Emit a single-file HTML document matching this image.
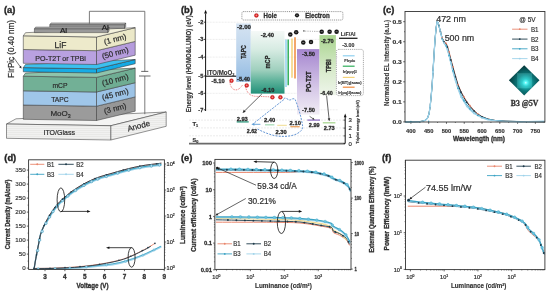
<!DOCTYPE html>
<html><head><meta charset="utf-8"><style>
html,body{margin:0;padding:0;background:#fff;}
svg{display:block;}
text{stroke:#2e2e2e;stroke-width:0.22px;}
text[font-weight="bold"]{stroke-width:0.45px;}
</style></head><body>
<svg width="550" height="293" viewBox="0 0 550 293">
<defs>
<linearGradient id="gTAPC" x1="0" y1="0" x2="0" y2="1"><stop offset="0" stop-color="#d5e3f2"/><stop offset="0.5" stop-color="#bcd4ec"/><stop offset="1" stop-color="#92bbe2"/></linearGradient>
<linearGradient id="gMCP" x1="0" y1="0" x2="0" y2="1"><stop offset="0" stop-color="#f5f9f7"/><stop offset="0.3" stop-color="#d6ebe2"/><stop offset="0.62" stop-color="#a0d0be"/><stop offset="0.8" stop-color="#5db29a"/><stop offset="1" stop-color="#229079"/></linearGradient>
<linearGradient id="gPO" x1="0" y1="0" x2="0" y2="1"><stop offset="0" stop-color="#a586cf"/><stop offset="0.6" stop-color="#d6c8e8"/><stop offset="1" stop-color="#f1edf5"/></linearGradient>
<linearGradient id="gTPBI" x1="0" y1="0" x2="0" y2="1"><stop offset="0" stop-color="#a9d48f"/><stop offset="0.6" stop-color="#d9ebcd"/><stop offset="1" stop-color="#eef5ea"/></linearGradient>
<radialGradient id="gDia" cx="0.55" cy="0.58" r="0.6"><stop offset="0" stop-color="#f2ffff"/><stop offset="0.07" stop-color="#5ef8f8"/><stop offset="0.2" stop-color="#1cc0c0"/><stop offset="0.45" stop-color="#0d7a7c"/><stop offset="1" stop-color="#042e30"/></radialGradient>
<pattern id="glass" width="3" height="2" patternUnits="userSpaceOnUse"><rect width="3" height="2" fill="#f1f1f0"/><rect width="3" height="0.6" fill="#e4e4e2"/></pattern>
</defs>
<polygon points="6.5,124 110.9,125.7 166.2,112 16,118.8" fill="#f4f4f3" stroke="#3c3c3c" stroke-width="0.55" stroke-linejoin="round" />
<polygon points="6.5,124 110.9,125.7 110.9,140 6.5,138.3" fill="url(#glass)" stroke="#3c3c3c" stroke-width="0.55" stroke-linejoin="round" />
<polygon points="110.9,125.7 166.2,112 166.2,126.3 110.9,140" fill="url(#glass)" stroke="#3c3c3c" stroke-width="0.55" stroke-linejoin="round" />
<text x="59.2" y="134.6" font-family="'Liberation Sans', sans-serif" font-size="8" font-weight="normal" fill="#2a2a2a" text-anchor="middle" style="stroke-width:0.21px" textLength="31.5" lengthAdjust="spacingAndGlyphs" >ITO/Glass</text>
<text x="0" y="0" font-family="'Liberation Sans', sans-serif" font-size="8" font-weight="normal" fill="#2a2a2a" text-anchor="middle" style="stroke-width:0.21px" transform="translate(139.3 128.6) rotate(-15)">Anode</text>
<polygon points="23.3,105 96.5,106.2 96.5,120.5 23.3,119.3" fill="#9b9b9b" stroke="#3c3c3c" stroke-width="0.55" stroke-linejoin="round" />
<polygon points="96.5,106.2 135.2,96.9 135.2,111.2 96.5,120.5" fill="#979797" stroke="#3c3c3c" stroke-width="0.55" stroke-linejoin="round" />
<polygon points="23.3,90.8 96.5,92 96.5,106.2 23.3,105" fill="#9fc6e9" stroke="#3c3c3c" stroke-width="0.55" stroke-linejoin="round" />
<polygon points="96.5,92 135.2,82.7 135.2,96.9 96.5,106.2" fill="#9cc3e6" stroke="#3c3c3c" stroke-width="0.55" stroke-linejoin="round" />
<polygon points="23.3,76.2 96.5,77.4 96.5,92 23.3,90.8" fill="#72b096" stroke="#3c3c3c" stroke-width="0.55" stroke-linejoin="round" />
<polygon points="96.5,77.4 135.2,68.1 135.2,82.7 96.5,92" fill="#6fad93" stroke="#3c3c3c" stroke-width="0.55" stroke-linejoin="round" />
<polygon points="23.3,76.2 96.5,77.4 135.2,68.1 25.5,73.1" fill="#8fc4ab" stroke="#3c3c3c" stroke-width="0.55" stroke-linejoin="round" />
<polygon points="23.3,67.6 96.5,68.8 96.5,73 23.3,71.8" fill="#16ace6" stroke="#3c3c3c" stroke-width="0.6" stroke-linejoin="round" />
<polygon points="96.5,68.8 135.2,59.5 135.2,63.7 96.5,73" fill="#14aae4" stroke="#3c3c3c" stroke-width="0.6" stroke-linejoin="round" />
<polygon points="23.3,67.6 96.5,68.8 135.2,59.5 25.5,64.5" fill="#3cc0ef" stroke="#3c3c3c" stroke-width="0.55" stroke-linejoin="round" />
<polygon points="23.3,49.5 96.5,50.7 96.5,64.5 23.3,63.3" fill="#b9a1e0" stroke="#3c3c3c" stroke-width="0.55" stroke-linejoin="round" />
<polygon points="96.5,50.7 135.2,41.4 135.2,55.2 96.5,64.5" fill="#b59cdc" stroke="#3c3c3c" stroke-width="0.55" stroke-linejoin="round" />
<polygon points="23.3,35.8 96.5,37 96.5,50.7 23.3,49.5" fill="#edeacb" stroke="#3c3c3c" stroke-width="0.55" stroke-linejoin="round" />
<polygon points="96.5,37 135.2,27.7 135.2,41.4 96.5,50.7" fill="#ebe8c8" stroke="#3c3c3c" stroke-width="0.55" stroke-linejoin="round" />
<polygon points="23.3,35.8 96.5,37 135.2,27.7 25.5,32.7" fill="#f3f1dc" stroke="#3c3c3c" stroke-width="0.55" stroke-linejoin="round" />
<polygon points="49.8,24.8 51,23 125.7,23 124.5,24.8" fill="#bdbdbd" stroke="#3c3c3c" stroke-width="0.5" stroke-linejoin="round" />
<polygon points="49.8,24.8 124.5,24.8 124.5,28.3 49.8,28.3" fill="#999999" stroke="#3c3c3c" stroke-width="0.5" stroke-linejoin="round" />
<polygon points="124.5,24.8 125.7,23 125.7,26.7 124.5,28.3" fill="#a8a8a8" stroke="#3c3c3c" stroke-width="0.5" stroke-linejoin="round" />
<polygon points="34.4,28.9 35.6,27.1 109,27.1 107.8,28.9" fill="#bdbdbd" stroke="#3c3c3c" stroke-width="0.5" stroke-linejoin="round" />
<polygon points="34.4,28.9 107.8,28.9 107.8,32.6 34.4,32.6" fill="#999999" stroke="#3c3c3c" stroke-width="0.5" stroke-linejoin="round" />
<polygon points="107.8,28.9 109,27.1 109,31 107.8,32.6" fill="#a8a8a8" stroke="#3c3c3c" stroke-width="0.5" stroke-linejoin="round" />
<text x="63.6" y="33.3" font-family="'Liberation Sans', sans-serif" font-size="8" font-weight="normal" fill="#111" text-anchor="middle" style="stroke-width:0.21px" >Al</text>
<text x="105.2" y="29.5" font-family="'Liberation Sans', sans-serif" font-size="8" font-weight="normal" fill="#111" text-anchor="middle" style="stroke-width:0.21px" >Al</text>
<text x="60.5" y="47.5" font-family="'Liberation Sans', sans-serif" font-size="9.6" font-weight="normal" fill="#2a2a2a" text-anchor="middle" style="stroke-width:0.25px" textLength="11.8" lengthAdjust="spacingAndGlyphs" >LiF</text>
<text x="60.6" y="60.8" font-family="'Liberation Sans', sans-serif" font-size="8" font-weight="normal" fill="#2a2a2a" text-anchor="middle" style="stroke-width:0.21px" textLength="50.5" lengthAdjust="spacingAndGlyphs" >PO-T2T or TPBi</text>
<text x="60" y="87.8" font-family="'Liberation Sans', sans-serif" font-size="8" font-weight="normal" fill="#2a2a2a" text-anchor="middle" style="stroke-width:0.21px" textLength="15" lengthAdjust="spacingAndGlyphs" >mCP</text>
<text x="60" y="102.1" font-family="'Liberation Sans', sans-serif" font-size="8" font-weight="normal" fill="#2a2a2a" text-anchor="middle" style="stroke-width:0.21px" textLength="17.5" lengthAdjust="spacingAndGlyphs" >TAPC</text>
<text x="60.5" y="116" font-family="'Liberation Sans', sans-serif" font-size="8.0" fill="#2a2a2a" text-anchor="middle" style="stroke-width:0.21px">MoO<tspan font-size="5.2" dy="1.6">3</tspan></text>
<text x="0" y="0" font-family="'Liberation Sans', sans-serif" font-size="7.9" font-weight="normal" fill="#2a2a2a" text-anchor="middle" style="stroke-width:0.21px" transform="translate(115.85 41.8) rotate(-15)">(1 nm)</text>
<text x="0" y="0" font-family="'Liberation Sans', sans-serif" font-size="7.9" font-weight="normal" fill="#2a2a2a" text-anchor="middle" style="stroke-width:0.21px" transform="translate(115.85 55.55) rotate(-15)">(50 nm)</text>
<text x="0" y="0" font-family="'Liberation Sans', sans-serif" font-size="7.9" font-weight="normal" fill="#2a2a2a" text-anchor="middle" style="stroke-width:0.21px" transform="translate(115.85 82.45) rotate(-15)">(10 nm)</text>
<text x="0" y="0" font-family="'Liberation Sans', sans-serif" font-size="7.9" font-weight="normal" fill="#2a2a2a" text-anchor="middle" style="stroke-width:0.21px" transform="translate(115.85 96.85) rotate(-15)">(45 nm)</text>
<text x="0" y="0" font-family="'Liberation Sans', sans-serif" font-size="7.9" font-weight="normal" fill="#2a2a2a" text-anchor="middle" style="stroke-width:0.21px" transform="translate(115.85 111.05) rotate(-15)">(3 nm)</text>
<text x="0" y="0" font-family="'Liberation Sans', sans-serif" font-size="8.4" font-weight="normal" fill="#2a2a2a" text-anchor="middle" style="stroke-width:0.22px" textLength="58" lengthAdjust="spacingAndGlyphs" transform="translate(13.6 49) rotate(-90)">FIrPic (0.40 nm)</text>
<line x1="13.1" y1="56.8" x2="20.38" y2="66.91" stroke="#222" stroke-width="0.6" />
<polygon points="21.6,68.6 19.13,67.17 21.03,65.81" fill="#222" stroke="none" stroke-width="0.6" stroke-linejoin="round" />
<polyline points="89.4,23.3 89.4,11.3 144.8,11.3 144.8,71.4" fill="none" stroke="#5a5a5a" stroke-width="0.8" stroke-linejoin="round" stroke-linecap="round" />
<line x1="144.8" y1="76" x2="144.8" y2="114.2" stroke="#5a5a5a" stroke-width="0.8" />
<line x1="141.2" y1="71.4" x2="148.3" y2="71.4" stroke="#5a5a5a" stroke-width="0.9" />
<line x1="139" y1="76" x2="150.5" y2="76" stroke="#5a5a5a" stroke-width="0.9" />
<text x="4" y="13" font-family="'Liberation Sans', sans-serif" font-size="9.3" font-weight="bold" fill="#222" text-anchor="start" style="stroke-width:0.4px" >(a)</text>
<text x="181" y="12.8" font-family="'Liberation Sans', sans-serif" font-size="9.3" font-weight="bold" fill="#222" text-anchor="start" style="stroke-width:0.4px" >(b)</text>
<text x="0" y="0" font-family="'Liberation Sans', sans-serif" font-size="6.4" font-weight="bold" fill="#333" text-anchor="middle" style="stroke-width:0.15px" textLength="97" lengthAdjust="spacingAndGlyphs" transform="translate(191.3 63.8) rotate(-90)">Energy level (HOMO&amp;LUMO) (eV)</text>
<line x1="206.6" y1="22.2" x2="338" y2="22.2" stroke="#dadada" stroke-width="0.5" stroke-dasharray="2 1"/>
<line x1="206.6" y1="39.4" x2="338" y2="39.4" stroke="#dadada" stroke-width="0.5" stroke-dasharray="2 1"/>
<line x1="206.6" y1="57.1" x2="338" y2="57.1" stroke="#dadada" stroke-width="0.5" stroke-dasharray="2 1"/>
<line x1="206.6" y1="93.3" x2="338" y2="93.3" stroke="#dadada" stroke-width="0.5" stroke-dasharray="2 1"/>
<line x1="206.6" y1="109.8" x2="338" y2="109.8" stroke="#dadada" stroke-width="0.5" stroke-dasharray="2 1"/>
<line x1="189" y1="120.1" x2="344" y2="120.1" stroke="#d6d6d6" stroke-width="0.5" stroke-dasharray="2 1"/>
<line x1="189" y1="127.9" x2="344" y2="127.9" stroke="#d6d6d6" stroke-width="0.5" stroke-dasharray="2 1"/>
<line x1="189" y1="135.8" x2="344" y2="135.8" stroke="#d6d6d6" stroke-width="0.5" stroke-dasharray="2 1"/>
<line x1="205.6" y1="111" x2="205.6" y2="13.5" stroke="#111" stroke-width="1.0" />
<polygon points="205.6,9.8 207.1,13.6 204.1,13.6" fill="#111" stroke="none" stroke-width="0.6" stroke-linejoin="round" />
<line x1="203.8" y1="22.2" x2="205.6" y2="22.2" stroke="#111" stroke-width="0.8" />
<text x="203.3" y="24.1" font-family="'Liberation Sans', sans-serif" font-size="5.6" font-weight="bold" fill="#333" text-anchor="end" style="stroke-width:0.27px" >-2</text>
<line x1="203.8" y1="39.4" x2="205.6" y2="39.4" stroke="#111" stroke-width="0.8" />
<text x="203.3" y="41.3" font-family="'Liberation Sans', sans-serif" font-size="5.6" font-weight="bold" fill="#333" text-anchor="end" style="stroke-width:0.27px" >-3</text>
<line x1="203.8" y1="57.1" x2="205.6" y2="57.1" stroke="#111" stroke-width="0.8" />
<text x="203.3" y="59" font-family="'Liberation Sans', sans-serif" font-size="5.6" font-weight="bold" fill="#333" text-anchor="end" style="stroke-width:0.27px" >-4</text>
<line x1="203.8" y1="76" x2="205.6" y2="76" stroke="#111" stroke-width="0.8" />
<text x="203.3" y="77.9" font-family="'Liberation Sans', sans-serif" font-size="5.6" font-weight="bold" fill="#333" text-anchor="end" style="stroke-width:0.27px" >-5</text>
<line x1="203.8" y1="93.3" x2="205.6" y2="93.3" stroke="#111" stroke-width="0.8" />
<text x="203.3" y="95.2" font-family="'Liberation Sans', sans-serif" font-size="5.6" font-weight="bold" fill="#333" text-anchor="end" style="stroke-width:0.27px" >-6</text>
<line x1="203.8" y1="109.8" x2="205.6" y2="109.8" stroke="#111" stroke-width="0.8" />
<text x="203.3" y="111.7" font-family="'Liberation Sans', sans-serif" font-size="5.6" font-weight="bold" fill="#333" text-anchor="end" style="stroke-width:0.27px" >-7</text>
<rect x="241.9" y="11.6" width="101" height="8.4" rx="1.5" fill="none" stroke="#555" stroke-width="0.65" stroke-dasharray="1 0.9"/>
<circle cx="256.4" cy="15.4" r="2" fill="#dc2424" stroke="#a81010" stroke-width="0.3" />
<line x1="255.5" y1="15.4" x2="257.3" y2="15.4" stroke="#fbdada" stroke-width="0.4" />
<line x1="256.4" y1="14.5" x2="256.4" y2="16.3" stroke="#fbdada" stroke-width="0.4" />
<text x="263.6" y="17.8" font-family="'Liberation Sans', sans-serif" font-size="6.6" font-weight="bold" fill="#333" text-anchor="start" style="stroke-width:0.32px" textLength="13.2" lengthAdjust="spacingAndGlyphs" >Hole</text>
<circle cx="297" cy="15.3" r="2.1" fill="#161616" stroke="none" stroke-width="0.5" />
<line x1="296.06" y1="15.3" x2="297.94" y2="15.3" stroke="#d8d8d8" stroke-width="0.45" />
<text x="305.2" y="17.8" font-family="'Liberation Sans', sans-serif" font-size="6.6" font-weight="bold" fill="#333" text-anchor="start" style="stroke-width:0.32px" textLength="24.5" lengthAdjust="spacingAndGlyphs" >Electron</text>
<rect x="236.2" y="23.4" width="14.6" height="58.4" fill="url(#gTAPC)" stroke="none" stroke-width="0.6" />
<rect x="250.8" y="31" width="33.7" height="62.6" fill="url(#gMCP)" stroke="none" stroke-width="0.6" />
<rect x="297" y="49.1" width="22.5" height="65.5" fill="url(#gPO)" stroke="none" stroke-width="0.6" />
<rect x="319.5" y="35.1" width="16.4" height="60.1" fill="url(#gTPBI)" stroke="none" stroke-width="0.6" />
<line x1="286" y1="39.4" x2="286" y2="87" stroke="#8fd0ef" stroke-width="1.5" />
<line x1="288.2" y1="39.4" x2="288.2" y2="85.3" stroke="#2fae5a" stroke-width="1.5" />
<line x1="292" y1="38.5" x2="292" y2="77.7" stroke="#f3d27a" stroke-width="1.5" />
<line x1="295" y1="37.2" x2="295" y2="78.5" stroke="#ef8a3c" stroke-width="1.5" />
<line x1="205.6" y1="76.2" x2="236.2" y2="76.2" stroke="#111" stroke-width="1.1" />
<text x="207" y="75.2" font-family="'Liberation Sans', sans-serif" font-size="6.6" font-weight="bold" fill="#333" textLength="27.5" lengthAdjust="spacingAndGlyphs" style="stroke-width:0.12px">ITO/MoO<tspan font-size="4.2" dy="1.2">3</tspan></text>
<line x1="339" y1="38.3" x2="357.5" y2="38.3" stroke="#222" stroke-width="1.3" />
<text x="348.2" y="36.4" font-family="'Liberation Sans', sans-serif" font-size="6.2" font-weight="bold" fill="#333" text-anchor="middle" style="stroke-width:0.12px" textLength="14.8" lengthAdjust="spacingAndGlyphs" >LiF/Al</text>
<text x="348.3" y="47" font-family="'Liberation Sans', sans-serif" font-size="5.8" font-weight="bold" fill="#333" text-anchor="middle" style="stroke-width:0.12px" textLength="12.1" lengthAdjust="spacingAndGlyphs" >-3.00</text>
<text x="244" y="28.5" font-family="'Liberation Sans', sans-serif" font-size="5.8" font-weight="bold" fill="#222" text-anchor="middle" style="stroke-width:0.28px" textLength="14" lengthAdjust="spacingAndGlyphs" >-2.00</text>
<text x="267.35" y="37.1" font-family="'Liberation Sans', sans-serif" font-size="5.8" font-weight="bold" fill="#222" text-anchor="middle" style="stroke-width:0.28px" textLength="13.3" lengthAdjust="spacingAndGlyphs" >-2.40</text>
<text x="243.5" y="80.8" font-family="'Liberation Sans', sans-serif" font-size="5.8" font-weight="bold" fill="#222" text-anchor="middle" style="stroke-width:0.28px" textLength="13" lengthAdjust="spacingAndGlyphs" >-5.40</text>
<text x="267.9" y="91.5" font-family="'Liberation Sans', sans-serif" font-size="5.8" font-weight="bold" fill="#222" text-anchor="middle" style="stroke-width:0.28px" textLength="12.8" lengthAdjust="spacingAndGlyphs" >-6.10</text>
<text x="308.5" y="56.4" font-family="'Liberation Sans', sans-serif" font-size="5.8" font-weight="bold" fill="#222" text-anchor="middle" style="stroke-width:0.28px" textLength="13" lengthAdjust="spacingAndGlyphs" >-3.50</text>
<text x="308.5" y="111.9" font-family="'Liberation Sans', sans-serif" font-size="5.8" font-weight="bold" fill="#222" text-anchor="middle" style="stroke-width:0.28px" textLength="13" lengthAdjust="spacingAndGlyphs" >-7.50</text>
<text x="327.35" y="42.6" font-family="'Liberation Sans', sans-serif" font-size="5.8" font-weight="bold" fill="#222" text-anchor="middle" style="stroke-width:0.28px" textLength="12.7" lengthAdjust="spacingAndGlyphs" >-2.70</text>
<text x="326.65" y="94.7" font-family="'Liberation Sans', sans-serif" font-size="5.8" font-weight="bold" fill="#222" text-anchor="middle" style="stroke-width:0.28px" textLength="12.3" lengthAdjust="spacingAndGlyphs" >-6.40</text>
<text x="218.05" y="82.6" font-family="'Liberation Sans', sans-serif" font-size="5.8" font-weight="bold" fill="#222" text-anchor="middle" style="stroke-width:0.28px" textLength="13.1" lengthAdjust="spacingAndGlyphs" >-5.10</text>
<text x="0" y="0" font-family="'Liberation Sans', sans-serif" font-size="6.8" font-weight="bold" fill="#222" text-anchor="middle" style="stroke-width:0.33px" textLength="13.7" lengthAdjust="spacingAndGlyphs" transform="translate(245.6 52) rotate(-90)">TAPC</text>
<text x="0" y="0" font-family="'Liberation Sans', sans-serif" font-size="6.8" font-weight="bold" fill="#222" text-anchor="middle" style="stroke-width:0.33px" textLength="12.9" lengthAdjust="spacingAndGlyphs" transform="translate(269.6 62) rotate(-90)">mCP</text>
<text x="0" y="0" font-family="'Liberation Sans', sans-serif" font-size="6.8" font-weight="bold" fill="#222" text-anchor="middle" style="stroke-width:0.33px" textLength="20.5" lengthAdjust="spacingAndGlyphs" transform="translate(310.7 81.8) rotate(-90)">PO-T2T</text>
<text x="0" y="0" font-family="'Liberation Sans', sans-serif" font-size="6.8" font-weight="bold" fill="#222" text-anchor="middle" style="stroke-width:0.33px" textLength="12.7" lengthAdjust="spacingAndGlyphs" transform="translate(330.9 65.8) rotate(-90)">TPBi</text>
<circle cx="290.3" cy="34.6" r="2.25" fill="#161616" stroke="none" stroke-width="0.5" />
<line x1="289.29" y1="34.6" x2="291.31" y2="34.6" stroke="#d8d8d8" stroke-width="0.45" />
<circle cx="296.2" cy="32.2" r="2.25" fill="#161616" stroke="none" stroke-width="0.5" />
<line x1="295.19" y1="32.2" x2="297.21" y2="32.2" stroke="#d8d8d8" stroke-width="0.45" />
<circle cx="303.3" cy="42.5" r="2.25" fill="#161616" stroke="none" stroke-width="0.5" />
<line x1="302.29" y1="42.5" x2="304.31" y2="42.5" stroke="#d8d8d8" stroke-width="0.45" />
<circle cx="311" cy="42.1" r="2.25" fill="#161616" stroke="none" stroke-width="0.5" />
<line x1="309.99" y1="42.1" x2="312.01" y2="42.1" stroke="#d8d8d8" stroke-width="0.45" />
<circle cx="321.7" cy="31.7" r="2.25" fill="#161616" stroke="none" stroke-width="0.5" />
<line x1="320.69" y1="31.7" x2="322.71" y2="31.7" stroke="#d8d8d8" stroke-width="0.45" />
<circle cx="329.6" cy="31.7" r="2.25" fill="#161616" stroke="none" stroke-width="0.5" />
<line x1="328.59" y1="31.7" x2="330.61" y2="31.7" stroke="#d8d8d8" stroke-width="0.45" />
<circle cx="336.6" cy="31.7" r="2.25" fill="#161616" stroke="none" stroke-width="0.5" />
<line x1="335.59" y1="31.7" x2="337.61" y2="31.7" stroke="#d8d8d8" stroke-width="0.45" />
<circle cx="303.9" cy="30.9" r="0.7" fill="#111" stroke="none" stroke-width="0.5" />
<line x1="305" y1="31.1" x2="319.5" y2="31.5" stroke="#333" stroke-width="0.6" stroke-dasharray="0.6 1.2"/>
<path d="M229.8,82.3 C231,90 236,92 240.5,87.6 L242.6,85" fill="none" stroke="#e04848" stroke-width="0.75" stroke-dasharray="0.9 0.9"/>
<path d="M245.6,87.4 C247,92 249,95.5 255,96.3 L270,96.8" fill="none" stroke="#e04848" stroke-width="0.75" stroke-dasharray="0.9 0.9"/>
<path d="M228,80.6 L206,80.6" fill="none" stroke="#e04848" stroke-width="0.0"/>
<circle cx="231.5" cy="80.7" r="2" fill="#dc2424" stroke="#a81010" stroke-width="0.3" />
<line x1="230.6" y1="80.7" x2="232.4" y2="80.7" stroke="#fbdada" stroke-width="0.4" />
<line x1="231.5" y1="79.8" x2="231.5" y2="81.6" stroke="#fbdada" stroke-width="0.4" />
<circle cx="246.7" cy="85.4" r="2" fill="#dc2424" stroke="#a81010" stroke-width="0.3" />
<line x1="245.8" y1="85.4" x2="247.6" y2="85.4" stroke="#fbdada" stroke-width="0.4" />
<line x1="246.7" y1="84.5" x2="246.7" y2="86.3" stroke="#fbdada" stroke-width="0.4" />
<circle cx="272.4" cy="97.3" r="2" fill="#dc2424" stroke="#a81010" stroke-width="0.3" />
<line x1="271.5" y1="97.3" x2="273.3" y2="97.3" stroke="#fbdada" stroke-width="0.4" />
<line x1="272.4" y1="96.4" x2="272.4" y2="98.2" stroke="#fbdada" stroke-width="0.4" />
<circle cx="280.4" cy="97.3" r="2" fill="#dc2424" stroke="#a81010" stroke-width="0.3" />
<line x1="279.5" y1="97.3" x2="281.3" y2="97.3" stroke="#fbdada" stroke-width="0.4" />
<line x1="280.4" y1="96.4" x2="280.4" y2="98.2" stroke="#fbdada" stroke-width="0.4" />
<rect x="336.4" y="49.4" width="27" height="46.2" rx="2.2" fill="none" stroke="#666" stroke-width="0.6" stroke-dasharray="1 0.9"/>
<line x1="342.8" y1="55.8" x2="354.6" y2="55.8" stroke="#8fd0ef" stroke-width="1.2" />
<text x="349.8" y="62.2" font-family="'Liberation Sans', sans-serif" font-size="4.0" font-weight="bold" fill="#333" text-anchor="middle" style="stroke-width:0.12px">FIrpic</text>
<line x1="342.8" y1="66.2" x2="354.6" y2="66.2" stroke="#2fae5a" stroke-width="1.2" />
<text x="349.8" y="72.6" font-family="'Liberation Sans', sans-serif" font-size="4.0" font-weight="bold" fill="#333" text-anchor="middle" style="stroke-width:0.12px">Ir(ppy)<tspan font-size="2.6" dy="0.8">3</tspan></text>
<line x1="342.8" y1="77.4" x2="354.6" y2="77.4" stroke="#f3d27a" stroke-width="1.2" />
<text x="349.8" y="83.8" font-family="'Liberation Sans', sans-serif" font-size="4.0" font-weight="bold" fill="#333" text-anchor="middle" style="stroke-width:0.12px">Ir(BT)<tspan font-size="2.6" dy="0.8">2</tspan><tspan dy="-0.8">(acac)</tspan></text>
<line x1="342.8" y1="87.2" x2="354.6" y2="87.2" stroke="#ef8a3c" stroke-width="1.2" />
<text x="349.8" y="93.6" font-family="'Liberation Sans', sans-serif" font-size="4.0" font-weight="bold" fill="#333" text-anchor="middle" style="stroke-width:0.12px">Ir(pq)<tspan font-size="2.6" dy="0.8">2</tspan><tspan dy="-0.8">(acac)</tspan></text>
<line x1="189" y1="143.7" x2="345" y2="143.7" stroke="#6a6a6a" stroke-width="1.7" />
<text x="192.4" y="125.6" font-family="'Liberation Sans', sans-serif" font-size="6.0" font-weight="bold" fill="#333" style="stroke-width:0.2px">T<tspan font-size="3.8" dy="1.2">1</tspan></text>
<text x="192.6" y="141.6" font-family="'Liberation Sans', sans-serif" font-size="5.4" font-weight="bold" fill="#333" style="stroke-width:0.2px">S<tspan font-size="3.8" dy="1.2">0</tspan></text>
<line x1="236.7" y1="121.9" x2="248.7" y2="121.9" stroke="#2e9a7e" stroke-width="1.3" />
<line x1="265" y1="124.8" x2="274.4" y2="124.8" stroke="#a9dcb8" stroke-width="1.3" />
<line x1="277.2" y1="125.4" x2="286.8" y2="125.4" stroke="#f3e3a6" stroke-width="1.3" />
<line x1="290.3" y1="126.7" x2="299.7" y2="126.7" stroke="#eea35f" stroke-width="1.3" />
<line x1="307.4" y1="120.1" x2="320" y2="120.1" stroke="#9070c4" stroke-width="1.3" />
<line x1="322.8" y1="122.8" x2="335.4" y2="122.8" stroke="#a9d691" stroke-width="1.3" />
<text x="242.25" y="120.6" font-family="'Liberation Sans', sans-serif" font-size="5.9" font-weight="bold" fill="#222" text-anchor="middle" style="stroke-width:0.28px" textLength="11.1" lengthAdjust="spacingAndGlyphs" >2.93</text>
<text x="251.9" y="132.8" font-family="'Liberation Sans', sans-serif" font-size="5.9" font-weight="bold" fill="#222" text-anchor="middle" style="stroke-width:0.28px" textLength="10.2" lengthAdjust="spacingAndGlyphs" >2.62</text>
<text x="269.65" y="121.9" font-family="'Liberation Sans', sans-serif" font-size="5.9" font-weight="bold" fill="#222" text-anchor="middle" style="stroke-width:0.28px" textLength="11.3" lengthAdjust="spacingAndGlyphs" >2.40</text>
<text x="281.1" y="133.8" font-family="'Liberation Sans', sans-serif" font-size="5.9" font-weight="bold" fill="#222" text-anchor="middle" style="stroke-width:0.28px" textLength="11.2" lengthAdjust="spacingAndGlyphs" >2.30</text>
<text x="295.25" y="124.5" font-family="'Liberation Sans', sans-serif" font-size="5.9" font-weight="bold" fill="#222" text-anchor="middle" style="stroke-width:0.28px" textLength="11.3" lengthAdjust="spacingAndGlyphs" >2.10</text>
<text x="314.2" y="127" font-family="'Liberation Sans', sans-serif" font-size="5.9" font-weight="bold" fill="#222" text-anchor="middle" style="stroke-width:0.28px" textLength="10.8" lengthAdjust="spacingAndGlyphs" >2.99</text>
<text x="329.25" y="130.4" font-family="'Liberation Sans', sans-serif" font-size="5.9" font-weight="bold" fill="#222" text-anchor="middle" style="stroke-width:0.28px" textLength="10.9" lengthAdjust="spacingAndGlyphs" >2.73</text>
<line x1="261.8" y1="94" x2="244.31" y2="111.22" stroke="#222" stroke-width="0.7" />
<polygon points="242.6,112.9 243.79,109.83 245.69,111.76" fill="#222" stroke="none" stroke-width="0.6" stroke-linejoin="round" />
<line x1="309.6" y1="116.3" x2="313.16" y2="118.79" stroke="#222" stroke-width="0.6" />
<polygon points="314.6,119.8 312.23,119.35 313.37,117.73" fill="#222" stroke="none" stroke-width="0.6" stroke-linejoin="round" />
<line x1="326.6" y1="95.6" x2="329.07" y2="118.97" stroke="#222" stroke-width="0.7" />
<polygon points="329.3,121.2 327.75,118.55 330.26,118.28" fill="#222" stroke="none" stroke-width="0.6" stroke-linejoin="round" />
<line x1="260.4" y1="124.3" x2="253.8" y2="124.3" stroke="#5b9bd5" stroke-width="0.9" />
<polygon points="251.4,124.3 254.4,122.8 254.4,125.8" fill="#5b9bd5" stroke="none" stroke-width="0.6" stroke-linejoin="round" />
<path d="M283.8,99.6 L253.6,123.4" stroke="#5b8fd2" stroke-width="0.95" stroke-dasharray="2 1.2" fill="none"/>
<path d="M283.8,99.1 C285,96.5 287.5,99.5 289.4,100 C291,100.3 292,97.8 295,99.1 C298,106 301.5,118 302.6,126 C303,130 300,132 296.5,134 C290,136.8 282,137 274,135.5 C268,134 262,131.5 256.5,128.5" stroke="#5b8fd2" stroke-width="0.95" stroke-dasharray="2 1.2" fill="none"/>
<line x1="345.2" y1="143.5" x2="345.2" y2="117" stroke="#111" stroke-width="1.0" />
<polygon points="345.2,113.6 346.6,117.2 343.8,117.2" fill="#111" stroke="none" stroke-width="0.6" stroke-linejoin="round" />
<line x1="343.6" y1="120.1" x2="345.2" y2="120.1" stroke="#111" stroke-width="0.7" />
<text x="348.6" y="122.3" font-family="'Liberation Sans', sans-serif" font-size="6" font-weight="normal" fill="#222" text-anchor="start" style="stroke-width:0.16px" >3</text>
<line x1="343.6" y1="128.1" x2="345.2" y2="128.1" stroke="#111" stroke-width="0.7" />
<text x="348.6" y="130.3" font-family="'Liberation Sans', sans-serif" font-size="6" font-weight="normal" fill="#222" text-anchor="start" style="stroke-width:0.16px" >2</text>
<line x1="343.6" y1="135.9" x2="345.2" y2="135.9" stroke="#111" stroke-width="0.7" />
<text x="348.6" y="138.1" font-family="'Liberation Sans', sans-serif" font-size="6" font-weight="normal" fill="#222" text-anchor="start" style="stroke-width:0.16px" >1</text>
<line x1="343.6" y1="143.5" x2="345.2" y2="143.5" stroke="#111" stroke-width="0.7" />
<text x="348.6" y="145.7" font-family="'Liberation Sans', sans-serif" font-size="6" font-weight="normal" fill="#222" text-anchor="start" style="stroke-width:0.16px" >0</text>
<text x="0" y="0" font-family="'Liberation Sans', sans-serif" font-size="3.9" font-weight="bold" fill="#444" text-anchor="middle" style="stroke-width:0.19px" textLength="43.5" lengthAdjust="spacingAndGlyphs" transform="translate(359.2 122) rotate(-90)">Triplet energy level (eV)</text>
<text x="382.9" y="12.8" font-family="'Liberation Sans', sans-serif" font-size="9.3" font-weight="bold" fill="#222" text-anchor="start" style="stroke-width:0.4px" >(c)</text>
<text x="0" y="0" font-family="'Liberation Sans', sans-serif" font-size="6.4" font-weight="bold" fill="#333" text-anchor="middle" style="stroke-width:0.12px" textLength="86" lengthAdjust="spacingAndGlyphs" transform="translate(388.9 63) rotate(-90)">Normalized EL intensity (a.u.)</text>
<text x="479" y="140.9" font-family="'Liberation Sans', sans-serif" font-size="6.6" font-weight="bold" fill="#333" text-anchor="middle" style="stroke-width:0.32px" textLength="52" lengthAdjust="spacingAndGlyphs" >Wavelength (nm)</text>
<line x1="403.2" y1="121.9" x2="405" y2="121.9" stroke="#222" stroke-width="0.7" />
<text x="401.8" y="124" font-family="'Liberation Sans', sans-serif" font-size="5.9" font-weight="bold" fill="#333" text-anchor="end" style="stroke-width:0.15px" textLength="9.4" lengthAdjust="spacingAndGlyphs" >0.0</text>
<line x1="403.2" y1="101.86" x2="405" y2="101.86" stroke="#222" stroke-width="0.7" />
<text x="401.8" y="103.96" font-family="'Liberation Sans', sans-serif" font-size="5.9" font-weight="bold" fill="#333" text-anchor="end" style="stroke-width:0.15px" textLength="9.4" lengthAdjust="spacingAndGlyphs" >0.1</text>
<line x1="403.2" y1="81.82" x2="405" y2="81.82" stroke="#222" stroke-width="0.7" />
<text x="401.8" y="83.92" font-family="'Liberation Sans', sans-serif" font-size="5.9" font-weight="bold" fill="#333" text-anchor="end" style="stroke-width:0.15px" textLength="9.4" lengthAdjust="spacingAndGlyphs" >0.2</text>
<line x1="403.2" y1="61.78" x2="405" y2="61.78" stroke="#222" stroke-width="0.7" />
<text x="401.8" y="63.88" font-family="'Liberation Sans', sans-serif" font-size="5.9" font-weight="bold" fill="#333" text-anchor="end" style="stroke-width:0.15px" textLength="9.4" lengthAdjust="spacingAndGlyphs" >0.3</text>
<line x1="403.2" y1="41.74" x2="405" y2="41.74" stroke="#222" stroke-width="0.7" />
<text x="401.8" y="43.84" font-family="'Liberation Sans', sans-serif" font-size="5.9" font-weight="bold" fill="#333" text-anchor="end" style="stroke-width:0.15px" textLength="9.4" lengthAdjust="spacingAndGlyphs" >0.4</text>
<line x1="403.2" y1="21.7" x2="405" y2="21.7" stroke="#222" stroke-width="0.7" />
<text x="401.8" y="23.8" font-family="'Liberation Sans', sans-serif" font-size="5.9" font-weight="bold" fill="#333" text-anchor="end" style="stroke-width:0.15px" textLength="9.4" lengthAdjust="spacingAndGlyphs" >0.5</text>
<line x1="404" y1="111.88" x2="405" y2="111.88" stroke="#222" stroke-width="0.6" />
<line x1="404" y1="91.84" x2="405" y2="91.84" stroke="#222" stroke-width="0.6" />
<line x1="404" y1="71.8" x2="405" y2="71.8" stroke="#222" stroke-width="0.6" />
<line x1="404" y1="51.76" x2="405" y2="51.76" stroke="#222" stroke-width="0.6" />
<line x1="404" y1="31.72" x2="405" y2="31.72" stroke="#222" stroke-width="0.6" />
<line x1="410.9" y1="122" x2="410.9" y2="123.8" stroke="#222" stroke-width="0.7" />
<text x="410.9" y="133" font-family="'Liberation Sans', sans-serif" font-size="5.9" font-weight="bold" fill="#333" text-anchor="middle" style="stroke-width:0.15px" textLength="9.6" lengthAdjust="spacingAndGlyphs" >400</text>
<line x1="428.68" y1="122" x2="428.68" y2="123.8" stroke="#222" stroke-width="0.7" />
<text x="428.68" y="133" font-family="'Liberation Sans', sans-serif" font-size="5.9" font-weight="bold" fill="#333" text-anchor="middle" style="stroke-width:0.15px" textLength="9.6" lengthAdjust="spacingAndGlyphs" >450</text>
<line x1="446.46" y1="122" x2="446.46" y2="123.8" stroke="#222" stroke-width="0.7" />
<text x="446.46" y="133" font-family="'Liberation Sans', sans-serif" font-size="5.9" font-weight="bold" fill="#333" text-anchor="middle" style="stroke-width:0.15px" textLength="9.6" lengthAdjust="spacingAndGlyphs" >500</text>
<line x1="464.24" y1="122" x2="464.24" y2="123.8" stroke="#222" stroke-width="0.7" />
<text x="464.24" y="133" font-family="'Liberation Sans', sans-serif" font-size="5.9" font-weight="bold" fill="#333" text-anchor="middle" style="stroke-width:0.15px" textLength="9.6" lengthAdjust="spacingAndGlyphs" >550</text>
<line x1="482.02" y1="122" x2="482.02" y2="123.8" stroke="#222" stroke-width="0.7" />
<text x="482.02" y="133" font-family="'Liberation Sans', sans-serif" font-size="5.9" font-weight="bold" fill="#333" text-anchor="middle" style="stroke-width:0.15px" textLength="9.6" lengthAdjust="spacingAndGlyphs" >600</text>
<line x1="499.8" y1="122" x2="499.8" y2="123.8" stroke="#222" stroke-width="0.7" />
<text x="499.8" y="133" font-family="'Liberation Sans', sans-serif" font-size="5.9" font-weight="bold" fill="#333" text-anchor="middle" style="stroke-width:0.15px" textLength="9.6" lengthAdjust="spacingAndGlyphs" >650</text>
<line x1="517.58" y1="122" x2="517.58" y2="123.8" stroke="#222" stroke-width="0.7" />
<text x="517.58" y="133" font-family="'Liberation Sans', sans-serif" font-size="5.9" font-weight="bold" fill="#333" text-anchor="middle" style="stroke-width:0.15px" textLength="9.6" lengthAdjust="spacingAndGlyphs" >700</text>
<line x1="535.36" y1="122" x2="535.36" y2="123.8" stroke="#222" stroke-width="0.7" />
<text x="535.36" y="133" font-family="'Liberation Sans', sans-serif" font-size="5.9" font-weight="bold" fill="#333" text-anchor="middle" style="stroke-width:0.15px" textLength="9.6" lengthAdjust="spacingAndGlyphs" >750</text>
<line x1="419.79" y1="122" x2="419.79" y2="123" stroke="#222" stroke-width="0.6" />
<line x1="437.57" y1="122" x2="437.57" y2="123" stroke="#222" stroke-width="0.6" />
<line x1="455.35" y1="122" x2="455.35" y2="123" stroke="#222" stroke-width="0.6" />
<line x1="473.13" y1="122" x2="473.13" y2="123" stroke="#222" stroke-width="0.6" />
<line x1="490.91" y1="122" x2="490.91" y2="123" stroke="#222" stroke-width="0.6" />
<line x1="508.69" y1="122" x2="508.69" y2="123" stroke="#222" stroke-width="0.6" />
<line x1="526.47" y1="122" x2="526.47" y2="123" stroke="#222" stroke-width="0.6" />
<line x1="544.25" y1="122" x2="544.25" y2="123" stroke="#222" stroke-width="0.6" />
<polyline points="405.5,121.9 415,121.8 420,121.6 423,121.1 425.5,120.2 427.5,118 429,114 430.2,106 431.2,96 432.2,84 433.1,70 434,55 435,40 436.1,28 437.1,21.5 438,22.5 438.8,25.3 440.5,31.77 442.2,37.94 444,41.27 446.2,43.33 447.4,45.81 449.1,51.74 450.8,58.52 453,66.73 455.5,76.24 458,84.54 461,91.51 464,96.9 466.7,101.24 470,105.71 474,110.28 477.8,113.87 482,116.6 488,119.03 495,120.47 505,121.2 520,121.6 544,121.8" fill="none" stroke="#e9866c" stroke-width="1.0" stroke-linejoin="round" stroke-linecap="round" />
<polyline points="405.5,121.9 415,121.8 420,121.6 423,121.1 425.5,120.2 427.5,118 429,114 430.2,106 431.2,96 432.2,84 433.1,70 434,55 435,40 436.1,28 437.1,21.5 438,22.5 438.8,25.3 440.5,31.84 442.2,38.15 444,41.78 446.2,44.34 447.4,47.08 449.1,53.22 450.8,59.94 453,67.75 455.5,76.77 458,84.93 461,92.14 464,97.76 466.7,102.15 470,106.52 474,110.84 477.8,114.21 482,116.77 488,119.06 495,120.48 505,121.2 520,121.6 544,121.8" fill="none" stroke="#1d3a4a" stroke-width="1.0" stroke-linejoin="round" stroke-linecap="round" />
<polyline points="405.5,121.9 415,121.8 420,121.6 423,121.1 425.5,120.2 427.5,118 429,114 430.2,106 431.2,96 432.2,84 433.1,70 434,55 435,40 436.1,28 437.1,21.5 438,22.5 438.8,25.3 440.5,32.21 442.2,38.76 444,42.73 446.2,45.84 447.4,48.9 449.1,55.51 450.8,62.63 453,70.79 455.5,79.97 458,88.11 461,95.19 464,100.68 466.7,104.87 470,108.87 474,112.58 477.8,115.34 482,117.36 488,119.24 495,120.5 505,121.2 520,121.6 544,121.8" fill="none" stroke="#3ba3c4" stroke-width="1.1" stroke-linejoin="round" stroke-linecap="round" />
<polyline points="405.5,121.9 415,121.8 420,121.6 423,121.1 425.5,120.2 427.5,118 429,114 430.2,106 431.2,96 432.2,84 433.1,70 434,55 435,40 436.1,28 437.1,21.5 438,22.5 438.8,25.3 440.5,32.09 442.2,39.14 444,42.94 446.2,46.48 447.4,49.63 449.1,55.54 450.8,62.67 453,72.08 455.5,80.53 458,88.69 461,96.89 464,101.62 466.7,106.29 470,109.68 474,113.45 477.8,115.34 482,117.85 488,119.87 495,120.56 505,121.54 520,121.84 544,121.19" fill="none" stroke="#9fd3ea" stroke-width="1.3" stroke-linejoin="round" stroke-linecap="round" />
<circle cx="438.8" cy="25.3" r="0.85" fill="#e9866c" stroke="none" stroke-width="0.5" />
<circle cx="442.2" cy="37.94" r="0.85" fill="#e9866c" stroke="none" stroke-width="0.5" />
<circle cx="446.2" cy="43.33" r="0.85" fill="#e9866c" stroke="none" stroke-width="0.5" />
<circle cx="449.1" cy="51.74" r="0.85" fill="#e9866c" stroke="none" stroke-width="0.5" />
<circle cx="453" cy="66.73" r="0.85" fill="#e9866c" stroke="none" stroke-width="0.5" />
<circle cx="458" cy="84.54" r="0.85" fill="#e9866c" stroke="none" stroke-width="0.5" />
<circle cx="464" cy="96.9" r="0.85" fill="#e9866c" stroke="none" stroke-width="0.5" />
<circle cx="470" cy="105.71" r="0.85" fill="#e9866c" stroke="none" stroke-width="0.5" />
<circle cx="477.8" cy="113.87" r="0.85" fill="#e9866c" stroke="none" stroke-width="0.5" />
<circle cx="440.5" cy="31.84" r="0.85" fill="#1d3a4a" stroke="none" stroke-width="0.5" />
<circle cx="444" cy="41.78" r="0.85" fill="#1d3a4a" stroke="none" stroke-width="0.5" />
<circle cx="447.4" cy="47.08" r="0.85" fill="#1d3a4a" stroke="none" stroke-width="0.5" />
<circle cx="450.8" cy="59.94" r="0.85" fill="#1d3a4a" stroke="none" stroke-width="0.5" />
<circle cx="455.5" cy="76.77" r="0.85" fill="#1d3a4a" stroke="none" stroke-width="0.5" />
<circle cx="461" cy="92.14" r="0.85" fill="#1d3a4a" stroke="none" stroke-width="0.5" />
<circle cx="466.7" cy="102.15" r="0.85" fill="#1d3a4a" stroke="none" stroke-width="0.5" />
<circle cx="474" cy="110.84" r="0.85" fill="#1d3a4a" stroke="none" stroke-width="0.5" />
<circle cx="482" cy="116.77" r="0.85" fill="#1d3a4a" stroke="none" stroke-width="0.5" />
<circle cx="438.8" cy="25.3" r="0.85" fill="#3ba3c4" stroke="none" stroke-width="0.5" />
<circle cx="442.2" cy="38.76" r="0.85" fill="#3ba3c4" stroke="none" stroke-width="0.5" />
<circle cx="446.2" cy="45.84" r="0.85" fill="#3ba3c4" stroke="none" stroke-width="0.5" />
<circle cx="449.1" cy="55.51" r="0.85" fill="#3ba3c4" stroke="none" stroke-width="0.5" />
<circle cx="453" cy="70.79" r="0.85" fill="#3ba3c4" stroke="none" stroke-width="0.5" />
<circle cx="458" cy="88.11" r="0.85" fill="#3ba3c4" stroke="none" stroke-width="0.5" />
<circle cx="464" cy="100.68" r="0.85" fill="#3ba3c4" stroke="none" stroke-width="0.5" />
<circle cx="470" cy="108.87" r="0.85" fill="#3ba3c4" stroke="none" stroke-width="0.5" />
<circle cx="477.8" cy="115.34" r="0.85" fill="#3ba3c4" stroke="none" stroke-width="0.5" />
<circle cx="440.5" cy="32.09" r="0.85" fill="#9fd3ea" stroke="none" stroke-width="0.5" />
<circle cx="444" cy="42.94" r="0.85" fill="#9fd3ea" stroke="none" stroke-width="0.5" />
<circle cx="447.4" cy="49.63" r="0.85" fill="#9fd3ea" stroke="none" stroke-width="0.5" />
<circle cx="450.8" cy="62.67" r="0.85" fill="#9fd3ea" stroke="none" stroke-width="0.5" />
<circle cx="455.5" cy="80.53" r="0.85" fill="#9fd3ea" stroke="none" stroke-width="0.5" />
<circle cx="461" cy="96.89" r="0.85" fill="#9fd3ea" stroke="none" stroke-width="0.5" />
<circle cx="466.7" cy="106.29" r="0.85" fill="#9fd3ea" stroke="none" stroke-width="0.5" />
<circle cx="474" cy="113.45" r="0.85" fill="#9fd3ea" stroke="none" stroke-width="0.5" />
<circle cx="482" cy="117.85" r="0.85" fill="#9fd3ea" stroke="none" stroke-width="0.5" />
<circle cx="433" cy="72" r="1" fill="#9fd3ea" stroke="none" stroke-width="0.5" />
<circle cx="430.2" cy="106" r="1" fill="#9fd3ea" stroke="none" stroke-width="0.5" />
<circle cx="410.9" cy="121.5" r="0.7" fill="#3ba3c4" stroke="none" stroke-width="0.5" />
<circle cx="428.68" cy="121.2" r="0.7" fill="#3ba3c4" stroke="none" stroke-width="0.5" />
<rect x="405.0" y="11.5" width="139.9" height="110.5" fill="none" stroke="#333" stroke-width="0.9"/>
<text x="436.2" y="22" font-family="'Liberation Sans', sans-serif" font-size="8.2" font-weight="normal" fill="#333" text-anchor="start" style="stroke-width:0.21px" textLength="29.8" lengthAdjust="spacingAndGlyphs" >472 nm</text>
<text x="444.7" y="40.8" font-family="'Liberation Sans', sans-serif" font-size="8.2" font-weight="normal" fill="#333" text-anchor="start" style="stroke-width:0.21px" textLength="29.5" lengthAdjust="spacingAndGlyphs" >500 nm</text>
<text x="527.5" y="22" font-family="'Liberation Sans', sans-serif" font-size="6.4" font-weight="normal" fill="#333" text-anchor="middle" style="stroke-width:0.17px" textLength="16.4" lengthAdjust="spacingAndGlyphs" >@ 5V</text>
<line x1="512.1" y1="29.2" x2="527.5" y2="29.2" stroke="#e9866c" stroke-width="0.9" />
<circle cx="519.8" cy="29.2" r="0.9" fill="#e9866c" stroke="none" stroke-width="0.5" />
<text x="530.9" y="31.6" font-family="'Liberation Sans', sans-serif" font-size="6.6" font-weight="normal" fill="#333" text-anchor="start" style="stroke-width:0.17px" textLength="7.6" lengthAdjust="spacingAndGlyphs" >B1</text>
<line x1="512.1" y1="39.1" x2="527.5" y2="39.1" stroke="#1d3a4a" stroke-width="0.9" />
<circle cx="519.8" cy="39.1" r="0.9" fill="#1d3a4a" stroke="none" stroke-width="0.5" />
<text x="530.9" y="41.5" font-family="'Liberation Sans', sans-serif" font-size="6.6" font-weight="normal" fill="#333" text-anchor="start" style="stroke-width:0.17px" textLength="7.6" lengthAdjust="spacingAndGlyphs" >B2</text>
<line x1="512.1" y1="48.8" x2="527.5" y2="48.8" stroke="#3ba3c4" stroke-width="0.9" />
<circle cx="519.8" cy="48.8" r="0.9" fill="#3ba3c4" stroke="none" stroke-width="0.5" />
<text x="530.9" y="51.2" font-family="'Liberation Sans', sans-serif" font-size="6.6" font-weight="normal" fill="#333" text-anchor="start" style="stroke-width:0.17px" textLength="7.6" lengthAdjust="spacingAndGlyphs" >B3</text>
<line x1="512.1" y1="58.6" x2="527.5" y2="58.6" stroke="#9fd3ea" stroke-width="0.9" />
<circle cx="519.8" cy="58.6" r="0.9" fill="#9fd3ea" stroke="none" stroke-width="0.5" />
<text x="530.9" y="61" font-family="'Liberation Sans', sans-serif" font-size="6.6" font-weight="normal" fill="#333" text-anchor="start" style="stroke-width:0.17px" textLength="7.6" lengthAdjust="spacingAndGlyphs" >B4</text>
<polygon points="524.2,65.2 539.5,80.2 524.2,95.4 508.9,80.2" fill="url(#gDia)" stroke="none" stroke-width="0.6" stroke-linejoin="round" />
<rect x="517.4" y="73.6" width="14.4" height="14.4" fill="#7ff" stroke="#aff" stroke-width="0.5" opacity="0.22"/>
<text x="524.6" y="106" font-family="'Liberation Serif', serif" font-size="7.8" font-weight="bold" fill="#333" text-anchor="middle" textLength="27.5" lengthAdjust="spacingAndGlyphs" style="stroke-width:0.3px">B3 @5V</text>
<text x="4.3" y="161.4" font-family="'Liberation Sans', sans-serif" font-size="9.3" font-weight="bold" fill="#222" text-anchor="start" style="stroke-width:0.4px" >(d)</text>
<line x1="26.8" y1="268.1" x2="28.6" y2="268.1" stroke="#222" stroke-width="0.7" />
<text x="25.6" y="270.3" font-family="'Liberation Sans', sans-serif" font-size="6.2" font-weight="normal" fill="#333" text-anchor="end" style="stroke-width:0.16px" >0</text>
<line x1="26.8" y1="254.1" x2="28.6" y2="254.1" stroke="#222" stroke-width="0.7" />
<text x="25.6" y="256.3" font-family="'Liberation Sans', sans-serif" font-size="6.2" font-weight="normal" fill="#333" text-anchor="end" style="stroke-width:0.16px" >50</text>
<line x1="26.8" y1="240.1" x2="28.6" y2="240.1" stroke="#222" stroke-width="0.7" />
<text x="25.6" y="242.3" font-family="'Liberation Sans', sans-serif" font-size="6.2" font-weight="normal" fill="#333" text-anchor="end" style="stroke-width:0.16px" >100</text>
<line x1="26.8" y1="226.1" x2="28.6" y2="226.1" stroke="#222" stroke-width="0.7" />
<text x="25.6" y="228.3" font-family="'Liberation Sans', sans-serif" font-size="6.2" font-weight="normal" fill="#333" text-anchor="end" style="stroke-width:0.16px" >150</text>
<line x1="26.8" y1="212.1" x2="28.6" y2="212.1" stroke="#222" stroke-width="0.7" />
<text x="25.6" y="214.3" font-family="'Liberation Sans', sans-serif" font-size="6.2" font-weight="normal" fill="#333" text-anchor="end" style="stroke-width:0.16px" >200</text>
<line x1="26.8" y1="198.1" x2="28.6" y2="198.1" stroke="#222" stroke-width="0.7" />
<text x="25.6" y="200.3" font-family="'Liberation Sans', sans-serif" font-size="6.2" font-weight="normal" fill="#333" text-anchor="end" style="stroke-width:0.16px" >250</text>
<line x1="26.8" y1="184.1" x2="28.6" y2="184.1" stroke="#222" stroke-width="0.7" />
<text x="25.6" y="186.3" font-family="'Liberation Sans', sans-serif" font-size="6.2" font-weight="normal" fill="#333" text-anchor="end" style="stroke-width:0.16px" >300</text>
<line x1="26.8" y1="170.1" x2="28.6" y2="170.1" stroke="#222" stroke-width="0.7" />
<text x="25.6" y="172.3" font-family="'Liberation Sans', sans-serif" font-size="6.2" font-weight="normal" fill="#333" text-anchor="end" style="stroke-width:0.16px" >350</text>
<line x1="27.6" y1="261.1" x2="28.6" y2="261.1" stroke="#222" stroke-width="0.6" />
<line x1="27.6" y1="247.1" x2="28.6" y2="247.1" stroke="#222" stroke-width="0.6" />
<line x1="27.6" y1="233.1" x2="28.6" y2="233.1" stroke="#222" stroke-width="0.6" />
<line x1="27.6" y1="219.1" x2="28.6" y2="219.1" stroke="#222" stroke-width="0.6" />
<line x1="27.6" y1="205.1" x2="28.6" y2="205.1" stroke="#222" stroke-width="0.6" />
<line x1="27.6" y1="191.1" x2="28.6" y2="191.1" stroke="#222" stroke-width="0.6" />
<line x1="27.6" y1="177.1" x2="28.6" y2="177.1" stroke="#222" stroke-width="0.6" />
<line x1="45" y1="269.4" x2="45" y2="271.2" stroke="#222" stroke-width="0.7" />
<text x="45" y="279.2" font-family="'Liberation Sans', sans-serif" font-size="6.4" font-weight="bold" fill="#333" text-anchor="middle" style="stroke-width:0.31px" >3</text>
<line x1="64.87" y1="269.4" x2="64.87" y2="271.2" stroke="#222" stroke-width="0.7" />
<text x="64.87" y="279.2" font-family="'Liberation Sans', sans-serif" font-size="6.4" font-weight="bold" fill="#333" text-anchor="middle" style="stroke-width:0.31px" >4</text>
<line x1="84.74" y1="269.4" x2="84.74" y2="271.2" stroke="#222" stroke-width="0.7" />
<text x="84.74" y="279.2" font-family="'Liberation Sans', sans-serif" font-size="6.4" font-weight="bold" fill="#333" text-anchor="middle" style="stroke-width:0.31px" >5</text>
<line x1="104.61" y1="269.4" x2="104.61" y2="271.2" stroke="#222" stroke-width="0.7" />
<text x="104.61" y="279.2" font-family="'Liberation Sans', sans-serif" font-size="6.4" font-weight="bold" fill="#333" text-anchor="middle" style="stroke-width:0.31px" >6</text>
<line x1="124.48" y1="269.4" x2="124.48" y2="271.2" stroke="#222" stroke-width="0.7" />
<text x="124.48" y="279.2" font-family="'Liberation Sans', sans-serif" font-size="6.4" font-weight="bold" fill="#333" text-anchor="middle" style="stroke-width:0.31px" >7</text>
<line x1="144.35" y1="269.4" x2="144.35" y2="271.2" stroke="#222" stroke-width="0.7" />
<text x="144.35" y="279.2" font-family="'Liberation Sans', sans-serif" font-size="6.4" font-weight="bold" fill="#333" text-anchor="middle" style="stroke-width:0.31px" >8</text>
<line x1="164.22" y1="269.4" x2="164.22" y2="271.2" stroke="#222" stroke-width="0.7" />
<text x="164.22" y="279.2" font-family="'Liberation Sans', sans-serif" font-size="6.4" font-weight="bold" fill="#333" text-anchor="middle" style="stroke-width:0.31px" >9</text>
<line x1="164.4" y1="268" x2="166.2" y2="268" stroke="#222" stroke-width="0.7" />
<text x="166.6" y="270.2" font-family="'Liberation Sans', sans-serif" font-size="5.6" font-weight="normal" fill="#333" text-anchor="start">10<tspan font-size="3.36" dy="-2.13">0</tspan></text>
<line x1="164.4" y1="260.17" x2="165.4" y2="260.17" stroke="#222" stroke-width="0.5" />
<line x1="164.4" y1="255.59" x2="165.4" y2="255.59" stroke="#222" stroke-width="0.5" />
<line x1="164.4" y1="252.35" x2="165.4" y2="252.35" stroke="#222" stroke-width="0.5" />
<line x1="164.4" y1="249.83" x2="165.4" y2="249.83" stroke="#222" stroke-width="0.5" />
<line x1="164.4" y1="247.77" x2="165.4" y2="247.77" stroke="#222" stroke-width="0.5" />
<line x1="164.4" y1="246.03" x2="165.4" y2="246.03" stroke="#222" stroke-width="0.5" />
<line x1="164.4" y1="244.52" x2="165.4" y2="244.52" stroke="#222" stroke-width="0.5" />
<line x1="164.4" y1="243.19" x2="165.4" y2="243.19" stroke="#222" stroke-width="0.5" />
<line x1="164.4" y1="242" x2="166.2" y2="242" stroke="#222" stroke-width="0.7" />
<text x="166.6" y="244.2" font-family="'Liberation Sans', sans-serif" font-size="5.6" font-weight="normal" fill="#333" text-anchor="start">10<tspan font-size="3.36" dy="-2.13">1</tspan></text>
<line x1="164.4" y1="234.17" x2="165.4" y2="234.17" stroke="#222" stroke-width="0.5" />
<line x1="164.4" y1="229.59" x2="165.4" y2="229.59" stroke="#222" stroke-width="0.5" />
<line x1="164.4" y1="226.35" x2="165.4" y2="226.35" stroke="#222" stroke-width="0.5" />
<line x1="164.4" y1="223.83" x2="165.4" y2="223.83" stroke="#222" stroke-width="0.5" />
<line x1="164.4" y1="221.77" x2="165.4" y2="221.77" stroke="#222" stroke-width="0.5" />
<line x1="164.4" y1="220.03" x2="165.4" y2="220.03" stroke="#222" stroke-width="0.5" />
<line x1="164.4" y1="218.52" x2="165.4" y2="218.52" stroke="#222" stroke-width="0.5" />
<line x1="164.4" y1="217.19" x2="165.4" y2="217.19" stroke="#222" stroke-width="0.5" />
<line x1="164.4" y1="216" x2="166.2" y2="216" stroke="#222" stroke-width="0.7" />
<text x="166.6" y="218.2" font-family="'Liberation Sans', sans-serif" font-size="5.6" font-weight="normal" fill="#333" text-anchor="start">10<tspan font-size="3.36" dy="-2.13">2</tspan></text>
<line x1="164.4" y1="208.17" x2="165.4" y2="208.17" stroke="#222" stroke-width="0.5" />
<line x1="164.4" y1="203.59" x2="165.4" y2="203.59" stroke="#222" stroke-width="0.5" />
<line x1="164.4" y1="200.35" x2="165.4" y2="200.35" stroke="#222" stroke-width="0.5" />
<line x1="164.4" y1="197.83" x2="165.4" y2="197.83" stroke="#222" stroke-width="0.5" />
<line x1="164.4" y1="195.77" x2="165.4" y2="195.77" stroke="#222" stroke-width="0.5" />
<line x1="164.4" y1="194.03" x2="165.4" y2="194.03" stroke="#222" stroke-width="0.5" />
<line x1="164.4" y1="192.52" x2="165.4" y2="192.52" stroke="#222" stroke-width="0.5" />
<line x1="164.4" y1="191.19" x2="165.4" y2="191.19" stroke="#222" stroke-width="0.5" />
<line x1="164.4" y1="190" x2="166.2" y2="190" stroke="#222" stroke-width="0.7" />
<text x="166.6" y="192.2" font-family="'Liberation Sans', sans-serif" font-size="5.6" font-weight="normal" fill="#333" text-anchor="start">10<tspan font-size="3.36" dy="-2.13">3</tspan></text>
<line x1="164.4" y1="182.17" x2="165.4" y2="182.17" stroke="#222" stroke-width="0.5" />
<line x1="164.4" y1="177.59" x2="165.4" y2="177.59" stroke="#222" stroke-width="0.5" />
<line x1="164.4" y1="174.35" x2="165.4" y2="174.35" stroke="#222" stroke-width="0.5" />
<line x1="164.4" y1="171.83" x2="165.4" y2="171.83" stroke="#222" stroke-width="0.5" />
<line x1="164.4" y1="169.77" x2="165.4" y2="169.77" stroke="#222" stroke-width="0.5" />
<line x1="164.4" y1="168.03" x2="165.4" y2="168.03" stroke="#222" stroke-width="0.5" />
<line x1="164.4" y1="166.52" x2="165.4" y2="166.52" stroke="#222" stroke-width="0.5" />
<line x1="164.4" y1="165.19" x2="165.4" y2="165.19" stroke="#222" stroke-width="0.5" />
<line x1="164.4" y1="164" x2="166.2" y2="164" stroke="#222" stroke-width="0.7" />
<text x="166.6" y="166.2" font-family="'Liberation Sans', sans-serif" font-size="5.6" font-weight="normal" fill="#333" text-anchor="start">10<tspan font-size="3.36" dy="-2.13">4</tspan></text>
<text x="0" y="0" font-family="'Liberation Sans', sans-serif" font-size="6.6" font-weight="bold" fill="#333" text-anchor="middle" style="stroke-width:0.32px" textLength="69.5" lengthAdjust="spacingAndGlyphs" transform="translate(10.3 214.4) rotate(-90)">Current Density (mA/cm<tspan font-size="4" dy="-2">2</tspan><tspan dy="2">)</tspan></text>
<text x="92.5" y="287.8" font-family="'Liberation Sans', sans-serif" font-size="6.8" font-weight="bold" fill="#333" text-anchor="middle" style="stroke-width:0.33px" textLength="32" lengthAdjust="spacingAndGlyphs" >Voltage (V)</text>
<text x="0" y="0" font-family="'Liberation Sans', sans-serif" font-size="6.8" font-weight="bold" fill="#333" text-anchor="middle" style="stroke-width:0.33px" textLength="57.8" lengthAdjust="spacingAndGlyphs" transform="translate(185.4 215.1) rotate(-90)">Luminance (cd/m<tspan font-size="4.2" dy="-2.2">2</tspan><tspan dy="2.2">)</tspan></text>
<polyline points="34.1,269 34.57,265.94 35.2,262 35.78,258.76 36.5,254.9 37.62,249.04 38.8,243 39.57,238.57 40.5,234.5 42.18,229.91 44.1,225.5 45.9,223.81 47.7,220.5 49.51,217.38 51.3,214.5 52.95,212.01 54.8,209.5 57.31,206.41 60,203.4 62.44,201.14 65,199 67.86,196.48 71.2,193.8 75.5,190.89 80,188.1 84,185.79 87.8,183.8 91.51,182.07 95,180.6 97.81,179.5 101.1,178.4 106.34,176.86 112.2,175.2 117.76,173.57 123.3,172 128.8,170.58 134.3,169.3 139.84,168.17 145.4,167.2 151.36,166.41 156.5,165.8 159.44,165.41 161,165.2" fill="none" stroke="#9fd3ea" stroke-width="1.5" stroke-linejoin="round" stroke-linecap="round" />
<polyline points="34.1,269 34.57,265.94 35.2,262 35.78,258.76 36.5,254.9 37.62,249.04 38.8,243 39.57,238.57 40.5,234.5 42.18,229.91 44.1,225.5 45.9,222.91 47.7,219.6 49.51,216.47 51.3,213.6 52.95,211.11 54.8,208.6 57.31,205.51 60,202.5 62.44,200.24 65,198.1 67.86,195.58 71.2,192.9 75.5,189.99 80,187.2 84,184.89 87.8,182.9 91.51,181.17 95,179.7 97.81,178.6 101.1,177.5 106.34,175.96 112.2,174.3 117.76,172.67 123.3,171.1 128.8,169.68 134.3,168.4 139.84,167.27 145.4,166.3 151.36,165.51 156.5,164.9 159.44,164.51 161,164.3" fill="none" stroke="#3ba3c4" stroke-width="1.2" stroke-linejoin="round" stroke-linecap="round" />
<polyline points="34.1,269 34.57,265.94 35.2,262 35.78,258.76 36.5,254.9 37.62,249.04 38.8,243 39.57,238.57 40.5,234.5 42.18,229.91 44.1,225.5 45.9,221.81 47.7,218.5 49.51,215.38 51.3,212.5 52.95,210.01 54.8,207.5 57.31,204.41 60,201.4 62.44,199.14 65,197 67.86,194.48 71.2,191.8 75.5,188.89 80,186.1 84,183.79 87.8,181.8 91.51,180.07 95,178.6 97.81,177.5 101.1,176.4 106.34,174.86 112.2,173.2 117.76,171.57 123.3,170 128.8,168.58 134.3,167.3 139.84,166.17 145.4,165.2 151.36,164.41 156.5,163.8 159.44,163.41 161,163.2" fill="none" stroke="#e9866c" stroke-width="0.8" stroke-linejoin="round" stroke-linecap="round" />
<polyline points="34.1,269 34.57,265.94 35.2,262 35.78,258.76 36.5,254.9 37.62,249.04 38.8,243 39.57,238.57 40.5,234.5 42.18,229.91 44.1,225.5 45.9,221.81 47.7,218.5 49.51,215.38 51.3,212.5 52.95,210.01 54.8,207.5 57.31,204.41 60,201.4 62.44,199.14 65,197 67.86,194.48 71.2,191.8 75.5,188.89 80,186.1 84,183.79 87.8,181.8 91.51,180.07 95,178.6 97.81,177.5 101.1,176.4 106.34,174.86 112.2,173.2 117.76,171.57 123.3,170 128.8,168.58 134.3,167.3 139.84,166.17 145.4,165.2 151.36,164.41 156.5,163.8 159.44,163.41 161,163.2" fill="none" stroke="#1d3a4a" stroke-width="0.9" stroke-linejoin="round" stroke-linecap="round" />
<circle cx="37.62" cy="250.54" r="1.3" fill="#b5def0" stroke="#2f8fb0" stroke-width="0.5" />
<circle cx="39.57" cy="240.07" r="1.3" fill="#b5def0" stroke="#2f8fb0" stroke-width="0.5" />
<circle cx="42.18" cy="231.41" r="1.3" fill="#b5def0" stroke="#2f8fb0" stroke-width="0.5" />
<circle cx="45.9" cy="223.31" r="1.3" fill="#b5def0" stroke="#2f8fb0" stroke-width="0.5" />
<circle cx="49.51" cy="216.88" r="1.3" fill="#b5def0" stroke="#2f8fb0" stroke-width="0.5" />
<circle cx="52.95" cy="211.51" r="1.3" fill="#b5def0" stroke="#2f8fb0" stroke-width="0.5" />
<circle cx="57.31" cy="205.91" r="1.3" fill="#b5def0" stroke="#2f8fb0" stroke-width="0.5" />
<circle cx="62.44" cy="200.64" r="1.3" fill="#b5def0" stroke="#2f8fb0" stroke-width="0.5" />
<circle cx="67.86" cy="195.98" r="1.3" fill="#b5def0" stroke="#2f8fb0" stroke-width="0.5" />
<circle cx="75.5" cy="190.39" r="1.3" fill="#b5def0" stroke="#2f8fb0" stroke-width="0.5" />
<circle cx="84" cy="185.29" r="1.3" fill="#b5def0" stroke="#2f8fb0" stroke-width="0.5" />
<circle cx="91.51" cy="181.57" r="1.3" fill="#b5def0" stroke="#2f8fb0" stroke-width="0.5" />
<circle cx="97.81" cy="179" r="1.3" fill="#b5def0" stroke="#2f8fb0" stroke-width="0.5" />
<circle cx="106.34" cy="176.36" r="1.3" fill="#b5def0" stroke="#2f8fb0" stroke-width="0.5" />
<circle cx="117.76" cy="173.07" r="1.3" fill="#b5def0" stroke="#2f8fb0" stroke-width="0.5" />
<circle cx="128.8" cy="170.08" r="1.3" fill="#b5def0" stroke="#2f8fb0" stroke-width="0.5" />
<circle cx="139.84" cy="167.67" r="1.3" fill="#b5def0" stroke="#2f8fb0" stroke-width="0.5" />
<circle cx="151.36" cy="165.91" r="1.3" fill="#b5def0" stroke="#2f8fb0" stroke-width="0.5" />
<circle cx="159.44" cy="164.91" r="1.3" fill="#b5def0" stroke="#2f8fb0" stroke-width="0.5" />
<circle cx="36.5" cy="254.9" r="0.8" fill="#1d3a4a" stroke="none" stroke-width="0.5" />
<circle cx="39.57" cy="238.57" r="0.8" fill="#1d3a4a" stroke="none" stroke-width="0.5" />
<circle cx="44.1" cy="225.5" r="0.8" fill="#1d3a4a" stroke="none" stroke-width="0.5" />
<circle cx="49.51" cy="215.38" r="0.8" fill="#1d3a4a" stroke="none" stroke-width="0.5" />
<circle cx="54.8" cy="207.5" r="0.8" fill="#1d3a4a" stroke="none" stroke-width="0.5" />
<circle cx="62.44" cy="199.14" r="0.8" fill="#1d3a4a" stroke="none" stroke-width="0.5" />
<circle cx="71.2" cy="191.8" r="0.8" fill="#1d3a4a" stroke="none" stroke-width="0.5" />
<circle cx="84" cy="183.79" r="0.8" fill="#1d3a4a" stroke="none" stroke-width="0.5" />
<circle cx="95" cy="178.6" r="0.8" fill="#1d3a4a" stroke="none" stroke-width="0.5" />
<circle cx="106.34" cy="174.86" r="0.8" fill="#1d3a4a" stroke="none" stroke-width="0.5" />
<circle cx="123.3" cy="170" r="0.8" fill="#1d3a4a" stroke="none" stroke-width="0.5" />
<circle cx="139.84" cy="166.17" r="0.8" fill="#1d3a4a" stroke="none" stroke-width="0.5" />
<circle cx="156.5" cy="163.8" r="0.8" fill="#1d3a4a" stroke="none" stroke-width="0.5" />
<polyline points="34,269.1 38.19,269.05 44.15,268.98 50,268.9 55.07,268.83 60.04,268.74 65,268.6 69.81,268.41 74.63,268.17 80,267.8 86.34,267.27 93.23,266.63 100,265.9 106.36,265.21 112.6,264.45 118.9,263.3 125.65,261.49 132.46,259.28 138.4,257.2 142.89,255.46 146.49,253.85 150,252.2 154.03,250.26 157.96,248.29 160.7,246.9" fill="none" stroke="#9fd3ea" stroke-width="1.9" stroke-linejoin="round" stroke-linecap="round" />
<polyline points="34,268.5 38.19,268.45 44.15,268.38 50,268.3 55.07,268.23 60.04,268.14 65,268 69.81,267.81 74.63,267.57 80,267.2 86.34,266.67 93.23,266.03 100,265.3 106.36,264.61 112.6,263.85 118.9,262.7 125.65,260.89 132.46,258.68 138.4,256.6 142.89,254.86 146.49,253.25 150,251.6 154.03,249.66 157.96,247.69 160.7,246.3" fill="none" stroke="#3ba3c4" stroke-width="0.8" stroke-linejoin="round" stroke-linecap="round" />
<polyline points="34,268.4 38.19,268.36 44.15,268.3 50,268.2 55.07,268.04 60.04,267.84 65,267.6 69.83,267.35 74.67,267.05 80,266.6 86.17,265.96 92.84,265.16 99.5,264.2 106.26,263.02 113.01,261.67 118.9,260.3 123.37,259 126.99,257.69 130.6,256.2 134.72,254.35 138.84,252.33 142.3,250.6 144.6,249.45 146.23,248.59 148,247.6 150.47,246.13 153.07,244.53 154.9,243.4" fill="none" stroke="#e9866c" stroke-width="0.9" stroke-linejoin="round" stroke-linecap="round" />
<polyline points="34,268.7 38.19,268.66 44.15,268.6 50,268.5 55.07,268.34 60.04,268.14 65,267.9 69.83,267.65 74.67,267.35 80,266.9 86.17,266.26 92.84,265.46 99.5,264.5 106.26,263.32 113.01,261.97 118.9,260.6 123.37,259.3 126.99,257.99 130.6,256.5 134.72,254.65 138.84,252.63 142.3,250.9 144.6,249.75 146.23,248.89 148,247.9 150.47,246.43" fill="none" stroke="#1d3a4a" stroke-width="0.9" stroke-linejoin="round" stroke-linecap="round" />
<circle cx="34" cy="268.4" r="0.8" fill="#1d3a4a" stroke="none" stroke-width="0.5" />
<circle cx="50" cy="268.2" r="0.8" fill="#1d3a4a" stroke="none" stroke-width="0.5" />
<circle cx="65" cy="267.6" r="0.8" fill="#1d3a4a" stroke="none" stroke-width="0.5" />
<circle cx="80" cy="266.6" r="0.8" fill="#1d3a4a" stroke="none" stroke-width="0.5" />
<circle cx="99.5" cy="264.2" r="0.8" fill="#1d3a4a" stroke="none" stroke-width="0.5" />
<circle cx="118.9" cy="260.3" r="0.8" fill="#1d3a4a" stroke="none" stroke-width="0.5" />
<circle cx="130.6" cy="256.2" r="0.8" fill="#1d3a4a" stroke="none" stroke-width="0.5" />
<circle cx="142.3" cy="250.6" r="0.8" fill="#1d3a4a" stroke="none" stroke-width="0.5" />
<circle cx="148" cy="247.6" r="0.8" fill="#1d3a4a" stroke="none" stroke-width="0.5" />
<circle cx="154.9" cy="243.4" r="0.8" fill="#1d3a4a" stroke="none" stroke-width="0.5" />
<circle cx="38.19" cy="268.75" r="1.1" fill="#9fd3ea" stroke="#3ba3c4" stroke-width="0.35" />
<circle cx="55.07" cy="268.53" r="1.1" fill="#9fd3ea" stroke="#3ba3c4" stroke-width="0.35" />
<circle cx="69.81" cy="268.11" r="1.1" fill="#9fd3ea" stroke="#3ba3c4" stroke-width="0.35" />
<circle cx="86.34" cy="266.97" r="1.1" fill="#9fd3ea" stroke="#3ba3c4" stroke-width="0.35" />
<circle cx="106.36" cy="264.91" r="1.1" fill="#9fd3ea" stroke="#3ba3c4" stroke-width="0.35" />
<circle cx="125.65" cy="261.19" r="1.1" fill="#9fd3ea" stroke="#3ba3c4" stroke-width="0.35" />
<circle cx="142.89" cy="255.16" r="1.1" fill="#9fd3ea" stroke="#3ba3c4" stroke-width="0.35" />
<circle cx="154.03" cy="249.96" r="1.1" fill="#9fd3ea" stroke="#3ba3c4" stroke-width="0.35" />
<rect x="28.6" y="159.8" width="135.8" height="109.6" fill="none" stroke="#333" stroke-width="0.9"/>
<line x1="30.2" y1="164.3" x2="44.3" y2="164.3" stroke="#e9866c" stroke-width="0.9" />
<circle cx="37.25" cy="164.3" r="0.95" fill="#e9866c" stroke="none" stroke-width="0.5" />
<text x="46.9" y="166.7" font-family="'Liberation Sans', sans-serif" font-size="6.6" font-weight="normal" fill="#333" text-anchor="start" style="stroke-width:0.17px" textLength="7.4" lengthAdjust="spacingAndGlyphs" >B1</text>
<line x1="58.4" y1="164.3" x2="73.7" y2="164.3" stroke="#1d3a4a" stroke-width="0.9" />
<circle cx="66.05" cy="164.3" r="0.95" fill="#1d3a4a" stroke="none" stroke-width="0.5" />
<text x="76.3" y="166.7" font-family="'Liberation Sans', sans-serif" font-size="6.6" font-weight="normal" fill="#333" text-anchor="start" style="stroke-width:0.17px" textLength="7.4" lengthAdjust="spacingAndGlyphs" >B2</text>
<line x1="30.2" y1="174.3" x2="44.3" y2="174.3" stroke="#3ba3c4" stroke-width="0.9" />
<circle cx="37.25" cy="174.3" r="0.95" fill="#3ba3c4" stroke="none" stroke-width="0.5" />
<text x="46.9" y="176.7" font-family="'Liberation Sans', sans-serif" font-size="6.6" font-weight="normal" fill="#333" text-anchor="start" style="stroke-width:0.17px" textLength="7.4" lengthAdjust="spacingAndGlyphs" >B3</text>
<line x1="58.4" y1="174.3" x2="73.7" y2="174.3" stroke="#9fd3ea" stroke-width="0.9" />
<circle cx="66.05" cy="174.3" r="0.95" fill="#9fd3ea" stroke="none" stroke-width="0.5" />
<text x="76.3" y="176.7" font-family="'Liberation Sans', sans-serif" font-size="6.6" font-weight="normal" fill="#333" text-anchor="start" style="stroke-width:0.17px" textLength="7.4" lengthAdjust="spacingAndGlyphs" >B4</text>
<ellipse cx="60.9" cy="199.9" rx="3.8" ry="12" fill="none" stroke="#111" stroke-width="0.8"/>
<line x1="60.9" y1="211.4" x2="87.78" y2="211.4" stroke="#111" stroke-width="0.8" />
<polygon points="90.5,211.4 87.1,212.7 87.1,210.1" fill="#111" stroke="none" stroke-width="0.6" stroke-linejoin="round" />
<ellipse cx="131.6" cy="257.4" rx="3.5" ry="9.8" fill="none" stroke="#111" stroke-width="0.8"/>
<line x1="131.6" y1="247.7" x2="108.72" y2="247.7" stroke="#111" stroke-width="0.8" />
<polygon points="106,247.7 109.4,246.4 109.4,249" fill="#111" stroke="none" stroke-width="0.6" stroke-linejoin="round" />
<text x="180.9" y="161.4" font-family="'Liberation Sans', sans-serif" font-size="9.3" font-weight="bold" fill="#222" text-anchor="start" style="stroke-width:0.4px" >(e)</text>
<line x1="213.1" y1="163" x2="214.9" y2="163" stroke="#222" stroke-width="0.7" />
<text x="212.1" y="165.1" font-family="'Liberation Sans', sans-serif" font-size="5.9" font-weight="bold" fill="#333" text-anchor="end" style="stroke-width:0.28px" >100</text>
<line x1="213.1" y1="189.7" x2="214.9" y2="189.7" stroke="#222" stroke-width="0.7" />
<text x="212.1" y="191.8" font-family="'Liberation Sans', sans-serif" font-size="5.9" font-weight="bold" fill="#333" text-anchor="end" style="stroke-width:0.28px" >10</text>
<line x1="213.1" y1="216.4" x2="214.9" y2="216.4" stroke="#222" stroke-width="0.7" />
<text x="212.1" y="218.5" font-family="'Liberation Sans', sans-serif" font-size="5.9" font-weight="bold" fill="#333" text-anchor="end" style="stroke-width:0.28px" >1</text>
<line x1="213.1" y1="243.1" x2="214.9" y2="243.1" stroke="#222" stroke-width="0.7" />
<text x="212.1" y="245.2" font-family="'Liberation Sans', sans-serif" font-size="5.9" font-weight="bold" fill="#333" text-anchor="end" style="stroke-width:0.28px" >0.1</text>
<line x1="213.1" y1="269.8" x2="214.9" y2="269.8" stroke="#222" stroke-width="0.7" />
<text x="212.1" y="271.9" font-family="'Liberation Sans', sans-serif" font-size="5.9" font-weight="bold" fill="#333" text-anchor="end" style="stroke-width:0.28px" >0.01</text>
<line x1="213.9" y1="261.76" x2="214.9" y2="261.76" stroke="#222" stroke-width="0.5" />
<line x1="213.9" y1="257.06" x2="214.9" y2="257.06" stroke="#222" stroke-width="0.5" />
<line x1="213.9" y1="253.72" x2="214.9" y2="253.72" stroke="#222" stroke-width="0.5" />
<line x1="213.9" y1="251.14" x2="214.9" y2="251.14" stroke="#222" stroke-width="0.5" />
<line x1="213.9" y1="249.02" x2="214.9" y2="249.02" stroke="#222" stroke-width="0.5" />
<line x1="213.9" y1="247.24" x2="214.9" y2="247.24" stroke="#222" stroke-width="0.5" />
<line x1="213.9" y1="245.69" x2="214.9" y2="245.69" stroke="#222" stroke-width="0.5" />
<line x1="213.9" y1="244.32" x2="214.9" y2="244.32" stroke="#222" stroke-width="0.5" />
<line x1="213.9" y1="235.06" x2="214.9" y2="235.06" stroke="#222" stroke-width="0.5" />
<line x1="213.9" y1="230.36" x2="214.9" y2="230.36" stroke="#222" stroke-width="0.5" />
<line x1="213.9" y1="227.02" x2="214.9" y2="227.02" stroke="#222" stroke-width="0.5" />
<line x1="213.9" y1="224.44" x2="214.9" y2="224.44" stroke="#222" stroke-width="0.5" />
<line x1="213.9" y1="222.32" x2="214.9" y2="222.32" stroke="#222" stroke-width="0.5" />
<line x1="213.9" y1="220.54" x2="214.9" y2="220.54" stroke="#222" stroke-width="0.5" />
<line x1="213.9" y1="218.99" x2="214.9" y2="218.99" stroke="#222" stroke-width="0.5" />
<line x1="213.9" y1="217.62" x2="214.9" y2="217.62" stroke="#222" stroke-width="0.5" />
<line x1="213.9" y1="208.36" x2="214.9" y2="208.36" stroke="#222" stroke-width="0.5" />
<line x1="213.9" y1="203.66" x2="214.9" y2="203.66" stroke="#222" stroke-width="0.5" />
<line x1="213.9" y1="200.32" x2="214.9" y2="200.32" stroke="#222" stroke-width="0.5" />
<line x1="213.9" y1="197.74" x2="214.9" y2="197.74" stroke="#222" stroke-width="0.5" />
<line x1="213.9" y1="195.62" x2="214.9" y2="195.62" stroke="#222" stroke-width="0.5" />
<line x1="213.9" y1="193.84" x2="214.9" y2="193.84" stroke="#222" stroke-width="0.5" />
<line x1="213.9" y1="192.29" x2="214.9" y2="192.29" stroke="#222" stroke-width="0.5" />
<line x1="213.9" y1="190.92" x2="214.9" y2="190.92" stroke="#222" stroke-width="0.5" />
<line x1="213.9" y1="181.66" x2="214.9" y2="181.66" stroke="#222" stroke-width="0.5" />
<line x1="213.9" y1="176.96" x2="214.9" y2="176.96" stroke="#222" stroke-width="0.5" />
<line x1="213.9" y1="173.62" x2="214.9" y2="173.62" stroke="#222" stroke-width="0.5" />
<line x1="213.9" y1="171.04" x2="214.9" y2="171.04" stroke="#222" stroke-width="0.5" />
<line x1="213.9" y1="168.92" x2="214.9" y2="168.92" stroke="#222" stroke-width="0.5" />
<line x1="213.9" y1="167.14" x2="214.9" y2="167.14" stroke="#222" stroke-width="0.5" />
<line x1="213.9" y1="165.59" x2="214.9" y2="165.59" stroke="#222" stroke-width="0.5" />
<line x1="213.9" y1="164.22" x2="214.9" y2="164.22" stroke="#222" stroke-width="0.5" />
<line x1="351" y1="162.6" x2="352.8" y2="162.6" stroke="#222" stroke-width="0.7" />
<text x="354.4" y="164.7" font-family="'Liberation Sans', sans-serif" font-size="5.6" font-weight="bold" fill="#333" text-anchor="start" style="stroke-width:0.27px" textLength="9.4" lengthAdjust="spacingAndGlyphs" >1000</text>
<line x1="351" y1="198.1" x2="352.8" y2="198.1" stroke="#222" stroke-width="0.7" />
<text x="354.4" y="200.2" font-family="'Liberation Sans', sans-serif" font-size="5.6" font-weight="bold" fill="#333" text-anchor="start" style="stroke-width:0.27px" textLength="7.05" lengthAdjust="spacingAndGlyphs" >100</text>
<line x1="351" y1="233.6" x2="352.8" y2="233.6" stroke="#222" stroke-width="0.7" />
<text x="354.4" y="235.7" font-family="'Liberation Sans', sans-serif" font-size="5.6" font-weight="bold" fill="#333" text-anchor="start" style="stroke-width:0.27px" textLength="4.7" lengthAdjust="spacingAndGlyphs" >10</text>
<line x1="351" y1="269.1" x2="352.8" y2="269.1" stroke="#222" stroke-width="0.7" />
<text x="354.4" y="271.2" font-family="'Liberation Sans', sans-serif" font-size="5.6" font-weight="bold" fill="#333" text-anchor="start" style="stroke-width:0.27px" textLength="2.35" lengthAdjust="spacingAndGlyphs" >1</text>
<line x1="351" y1="258.41" x2="352" y2="258.41" stroke="#222" stroke-width="0.5" />
<line x1="351" y1="252.16" x2="352" y2="252.16" stroke="#222" stroke-width="0.5" />
<line x1="351" y1="247.73" x2="352" y2="247.73" stroke="#222" stroke-width="0.5" />
<line x1="351" y1="244.29" x2="352" y2="244.29" stroke="#222" stroke-width="0.5" />
<line x1="351" y1="241.48" x2="352" y2="241.48" stroke="#222" stroke-width="0.5" />
<line x1="351" y1="239.1" x2="352" y2="239.1" stroke="#222" stroke-width="0.5" />
<line x1="351" y1="237.04" x2="352" y2="237.04" stroke="#222" stroke-width="0.5" />
<line x1="351" y1="235.22" x2="352" y2="235.22" stroke="#222" stroke-width="0.5" />
<line x1="351" y1="222.91" x2="352" y2="222.91" stroke="#222" stroke-width="0.5" />
<line x1="351" y1="216.66" x2="352" y2="216.66" stroke="#222" stroke-width="0.5" />
<line x1="351" y1="212.23" x2="352" y2="212.23" stroke="#222" stroke-width="0.5" />
<line x1="351" y1="208.79" x2="352" y2="208.79" stroke="#222" stroke-width="0.5" />
<line x1="351" y1="205.98" x2="352" y2="205.98" stroke="#222" stroke-width="0.5" />
<line x1="351" y1="203.6" x2="352" y2="203.6" stroke="#222" stroke-width="0.5" />
<line x1="351" y1="201.54" x2="352" y2="201.54" stroke="#222" stroke-width="0.5" />
<line x1="351" y1="199.72" x2="352" y2="199.72" stroke="#222" stroke-width="0.5" />
<line x1="351" y1="187.41" x2="352" y2="187.41" stroke="#222" stroke-width="0.5" />
<line x1="351" y1="181.16" x2="352" y2="181.16" stroke="#222" stroke-width="0.5" />
<line x1="351" y1="176.73" x2="352" y2="176.73" stroke="#222" stroke-width="0.5" />
<line x1="351" y1="173.29" x2="352" y2="173.29" stroke="#222" stroke-width="0.5" />
<line x1="351" y1="170.48" x2="352" y2="170.48" stroke="#222" stroke-width="0.5" />
<line x1="351" y1="168.1" x2="352" y2="168.1" stroke="#222" stroke-width="0.5" />
<line x1="351" y1="166.04" x2="352" y2="166.04" stroke="#222" stroke-width="0.5" />
<line x1="351" y1="164.22" x2="352" y2="164.22" stroke="#222" stroke-width="0.5" />
<line x1="216.4" y1="269.4" x2="216.4" y2="271.2" stroke="#222" stroke-width="0.7" />
<text x="216.4" y="279.4" font-family="'Liberation Sans', sans-serif" font-size="5.6" font-weight="normal" fill="#333" text-anchor="middle">10<tspan font-size="3.36" dy="-2.13">0</tspan></text>
<line x1="226.61" y1="269.4" x2="226.61" y2="270.4" stroke="#222" stroke-width="0.5" />
<line x1="232.59" y1="269.4" x2="232.59" y2="270.4" stroke="#222" stroke-width="0.5" />
<line x1="236.83" y1="269.4" x2="236.83" y2="270.4" stroke="#222" stroke-width="0.5" />
<line x1="240.12" y1="269.4" x2="240.12" y2="270.4" stroke="#222" stroke-width="0.5" />
<line x1="242.8" y1="269.4" x2="242.8" y2="270.4" stroke="#222" stroke-width="0.5" />
<line x1="245.07" y1="269.4" x2="245.07" y2="270.4" stroke="#222" stroke-width="0.5" />
<line x1="247.04" y1="269.4" x2="247.04" y2="270.4" stroke="#222" stroke-width="0.5" />
<line x1="248.78" y1="269.4" x2="248.78" y2="270.4" stroke="#222" stroke-width="0.5" />
<line x1="250.33" y1="269.4" x2="250.33" y2="271.2" stroke="#222" stroke-width="0.7" />
<text x="250.33" y="279.4" font-family="'Liberation Sans', sans-serif" font-size="5.6" font-weight="normal" fill="#333" text-anchor="middle">10<tspan font-size="3.36" dy="-2.13">1</tspan></text>
<line x1="260.54" y1="269.4" x2="260.54" y2="270.4" stroke="#222" stroke-width="0.5" />
<line x1="266.52" y1="269.4" x2="266.52" y2="270.4" stroke="#222" stroke-width="0.5" />
<line x1="270.76" y1="269.4" x2="270.76" y2="270.4" stroke="#222" stroke-width="0.5" />
<line x1="274.05" y1="269.4" x2="274.05" y2="270.4" stroke="#222" stroke-width="0.5" />
<line x1="276.73" y1="269.4" x2="276.73" y2="270.4" stroke="#222" stroke-width="0.5" />
<line x1="279" y1="269.4" x2="279" y2="270.4" stroke="#222" stroke-width="0.5" />
<line x1="280.97" y1="269.4" x2="280.97" y2="270.4" stroke="#222" stroke-width="0.5" />
<line x1="282.71" y1="269.4" x2="282.71" y2="270.4" stroke="#222" stroke-width="0.5" />
<line x1="284.26" y1="269.4" x2="284.26" y2="271.2" stroke="#222" stroke-width="0.7" />
<text x="284.26" y="279.4" font-family="'Liberation Sans', sans-serif" font-size="5.6" font-weight="normal" fill="#333" text-anchor="middle">10<tspan font-size="3.36" dy="-2.13">2</tspan></text>
<line x1="294.47" y1="269.4" x2="294.47" y2="270.4" stroke="#222" stroke-width="0.5" />
<line x1="300.45" y1="269.4" x2="300.45" y2="270.4" stroke="#222" stroke-width="0.5" />
<line x1="304.69" y1="269.4" x2="304.69" y2="270.4" stroke="#222" stroke-width="0.5" />
<line x1="307.98" y1="269.4" x2="307.98" y2="270.4" stroke="#222" stroke-width="0.5" />
<line x1="310.66" y1="269.4" x2="310.66" y2="270.4" stroke="#222" stroke-width="0.5" />
<line x1="312.93" y1="269.4" x2="312.93" y2="270.4" stroke="#222" stroke-width="0.5" />
<line x1="314.9" y1="269.4" x2="314.9" y2="270.4" stroke="#222" stroke-width="0.5" />
<line x1="316.64" y1="269.4" x2="316.64" y2="270.4" stroke="#222" stroke-width="0.5" />
<line x1="318.19" y1="269.4" x2="318.19" y2="271.2" stroke="#222" stroke-width="0.7" />
<text x="318.19" y="279.4" font-family="'Liberation Sans', sans-serif" font-size="5.6" font-weight="normal" fill="#333" text-anchor="middle">10<tspan font-size="3.36" dy="-2.13">3</tspan></text>
<line x1="328.4" y1="269.4" x2="328.4" y2="270.4" stroke="#222" stroke-width="0.5" />
<line x1="334.38" y1="269.4" x2="334.38" y2="270.4" stroke="#222" stroke-width="0.5" />
<line x1="338.62" y1="269.4" x2="338.62" y2="270.4" stroke="#222" stroke-width="0.5" />
<line x1="341.91" y1="269.4" x2="341.91" y2="270.4" stroke="#222" stroke-width="0.5" />
<line x1="344.59" y1="269.4" x2="344.59" y2="270.4" stroke="#222" stroke-width="0.5" />
<line x1="346.86" y1="269.4" x2="346.86" y2="270.4" stroke="#222" stroke-width="0.5" />
<line x1="348.83" y1="269.4" x2="348.83" y2="270.4" stroke="#222" stroke-width="0.5" />
<line x1="350.57" y1="269.4" x2="350.57" y2="270.4" stroke="#222" stroke-width="0.5" />
<text x="0" y="0" font-family="'Liberation Sans', sans-serif" font-size="6.8" font-weight="bold" fill="#333" text-anchor="middle" style="stroke-width:0.33px" textLength="73.2" lengthAdjust="spacingAndGlyphs" transform="translate(196.4 215.1) rotate(-90)">Current efficiency (cd/A)</text>
<text x="0" y="0" font-family="'Liberation Sans', sans-serif" font-size="6.6" font-weight="bold" fill="#333" text-anchor="middle" style="stroke-width:0.32px" textLength="86" lengthAdjust="spacingAndGlyphs" transform="translate(373.9 209.5) rotate(-90)">External Quantum Efficiency (%)</text>
<text x="283.4" y="287.6" font-family="'Liberation Sans', sans-serif" font-size="6.8" font-weight="bold" fill="#333" text-anchor="middle" textLength="56.8" lengthAdjust="spacingAndGlyphs" style="stroke-width:0.15px">Luminance (cd/m<tspan font-size="4" dy="-2">2</tspan><tspan dy="2">)</tspan></text>
<polyline points="216.4,172.4 222.65,172.4 231.53,172.4 240,172.4 246.93,172.4 253.47,172.4 260,172.4 266.85,172.4 273.7,172.4 280,172.4 285.37,172.4 290.19,172.4 295,172.4 300.19,171.34 305.37,171.63 310,172 313.75,172.45 316.95,172.98 320,173.6 323.13,174.32 326.11,175.13 328.7,176 330.63,176.98 332.18,178.02 333.9,179 336.08,179.81 338.44,180.55 340.7,181.4 342.86,182.48 344.93,183.67 346.6,184.8 347.7,185.77 348.41,186.67 349,187.6 349.56,188.7 350,189.81 350.3,190.6" fill="none" stroke="#e9866c" stroke-width="1.0" stroke-linejoin="round" stroke-linecap="round" />
<polyline points="216.4,170.2 222.65,170.24 231.53,170.31 240,170.4 246.93,170.52 253.47,170.66 260,170.8 266.85,170.93 273.7,171.06 280,171.2 285.37,171.34 290.19,171.5 295,171.7 300.19,171.94 305.37,172.23 310,172.6 313.75,173.05 316.95,173.58 320,174.2 323.13,174.92 326.11,175.73 328.7,176.6 330.63,177.58 332.18,178.62 333.9,179.6 336.08,180.41 338.44,181.15 340.7,182 342.86,183.08 344.93,184.27 346.6,185.4 347.7,186.37 348.41,187.27 349,188.2 349.56,189.3 350,190.41 350.3,191.2" fill="none" stroke="#9fd3ea" stroke-width="1.5" stroke-linejoin="round" stroke-linecap="round" />
<polyline points="216.4,169.6 222.65,169.64 231.53,169.71 240,169.8 246.93,169.92 253.47,170.06 260,170.2 266.85,170.33 273.7,170.46 280,170.6 285.37,170.74 290.19,170.9 295,171.1 300.19,171.34 305.37,171.63 310,172 313.75,172.45 316.95,172.98 320,173.6 323.13,174.32 326.11,175.13 328.7,176 330.63,176.98 332.18,178.02 333.9,179 336.08,179.81 338.44,180.55 340.7,181.4 342.86,182.48 344.93,183.67 346.6,184.8 347.7,185.77 348.41,186.67 349,187.6 349.56,188.7 350,189.81 350.3,190.6" fill="none" stroke="#1d3a4a" stroke-width="0.9" stroke-linejoin="round" stroke-linecap="round" />
<polyline points="216.4,169 222.65,169.04 231.53,169.11 240,169.2 246.93,169.32 253.47,169.46 260,169.6 266.85,169.73 273.7,169.86 280,170 285.37,170.14 290.19,170.3 295,170.5 300.19,170.74 305.37,171.03 310,171.4 313.75,171.85 316.95,172.38 320,173 323.13,173.72 326.11,174.53 328.7,175.4 330.63,176.38 332.18,177.42 333.9,178.4 336.08,179.21 338.44,179.95 340.7,180.8 342.86,181.88 344.93,183.07 346.6,184.2 347.7,185.17 348.41,186.07 349,187 349.56,188.1 350,189.21 350.3,190" fill="none" stroke="#3ba3c4" stroke-width="1.2" stroke-linejoin="round" stroke-linecap="round" />
<circle cx="226.9" cy="169.68" r="0.95" fill="#1d3a4a" stroke="none" stroke-width="0" />
<circle cx="235.4" cy="169.75" r="0.95" fill="#1d3a4a" stroke="none" stroke-width="0" />
<circle cx="243.9" cy="169.87" r="0.95" fill="#1d3a4a" stroke="none" stroke-width="0" />
<circle cx="252.4" cy="170.04" r="0.95" fill="#1d3a4a" stroke="none" stroke-width="0" />
<circle cx="260.89" cy="170.22" r="0.95" fill="#1d3a4a" stroke="none" stroke-width="0" />
<circle cx="269.39" cy="170.38" r="0.95" fill="#1d3a4a" stroke="none" stroke-width="0" />
<circle cx="277.89" cy="170.55" r="0.95" fill="#1d3a4a" stroke="none" stroke-width="0" />
<circle cx="286.39" cy="170.78" r="0.95" fill="#1d3a4a" stroke="none" stroke-width="0" />
<circle cx="294.88" cy="171.1" r="0.95" fill="#1d3a4a" stroke="none" stroke-width="0" />
<circle cx="303.37" cy="171.52" r="0.95" fill="#1d3a4a" stroke="none" stroke-width="0" />
<circle cx="311.84" cy="172.22" r="0.95" fill="#1d3a4a" stroke="none" stroke-width="0" />
<circle cx="320.22" cy="173.65" r="0.95" fill="#1d3a4a" stroke="none" stroke-width="0" />
<circle cx="328.41" cy="175.9" r="0.95" fill="#1d3a4a" stroke="none" stroke-width="0" />
<circle cx="335.94" cy="179.76" r="0.95" fill="#1d3a4a" stroke="none" stroke-width="0" />
<circle cx="343.77" cy="183" r="0.95" fill="#1d3a4a" stroke="none" stroke-width="0" />
<circle cx="349.64" cy="188.88" r="0.95" fill="#1d3a4a" stroke="none" stroke-width="0" />
<circle cx="230.9" cy="169.11" r="1.4" fill="#6cc3dd" stroke="#3ba3c4" stroke-width="0.3" />
<circle cx="239.4" cy="169.19" r="1.4" fill="#6cc3dd" stroke="#3ba3c4" stroke-width="0.3" />
<circle cx="247.9" cy="169.34" r="1.4" fill="#6cc3dd" stroke="#3ba3c4" stroke-width="0.3" />
<circle cx="256.4" cy="169.52" r="1.4" fill="#6cc3dd" stroke="#3ba3c4" stroke-width="0.3" />
<circle cx="264.89" cy="169.69" r="1.4" fill="#6cc3dd" stroke="#3ba3c4" stroke-width="0.3" />
<circle cx="273.39" cy="169.85" r="1.4" fill="#6cc3dd" stroke="#3ba3c4" stroke-width="0.3" />
<circle cx="281.89" cy="170.05" r="1.4" fill="#6cc3dd" stroke="#3ba3c4" stroke-width="0.3" />
<circle cx="290.39" cy="170.31" r="1.4" fill="#6cc3dd" stroke="#3ba3c4" stroke-width="0.3" />
<circle cx="298.88" cy="170.68" r="1.4" fill="#6cc3dd" stroke="#3ba3c4" stroke-width="0.3" />
<circle cx="307.36" cy="171.19" r="1.4" fill="#6cc3dd" stroke="#3ba3c4" stroke-width="0.3" />
<circle cx="315.8" cy="172.19" r="1.4" fill="#6cc3dd" stroke="#3ba3c4" stroke-width="0.3" />
<circle cx="324.1" cy="173.98" r="1.4" fill="#6cc3dd" stroke="#3ba3c4" stroke-width="0.3" />
<circle cx="331.89" cy="177.23" r="1.4" fill="#6cc3dd" stroke="#3ba3c4" stroke-width="0.3" />
<circle cx="339.73" cy="180.43" r="1.4" fill="#6cc3dd" stroke="#3ba3c4" stroke-width="0.3" />
<circle cx="347.08" cy="184.63" r="1.4" fill="#6cc3dd" stroke="#3ba3c4" stroke-width="0.3" />
<circle cx="217.2" cy="167.9" r="1.2" fill="#111" stroke="none" stroke-width="0.5" />
<polyline points="216.4,222.2 222.65,222.2 231.53,222.2 240,222.2 246.93,222.19 253.47,222.19 260,222.2 266.67,222.24 273.33,222.3 280,222.4 286.65,222.48 293.3,222.61 300,223 307.15,223.84 314.36,224.94 320.5,226 325.17,226.84 328.78,227.64 331.4,228.6 332.57,229.88 332.75,231.32 333.4,232.6 335.13,233.49 337.33,234.22 339.6,235.2 341.97,236.63 344.4,238.3 346.4,240 347.76,241.84 348.69,243.7 349.3,245" fill="none" stroke="#e9866c" stroke-width="1.0" stroke-linejoin="round" stroke-linecap="round" />
<polyline points="216.4,218.3 222.65,218.37 231.53,218.48 240,218.6 246.93,218.72 253.47,218.86 260,219 266.81,219.14 273.63,219.28 280,219.45 285.57,219.59 290.7,219.75 296,220.1 301.98,220.79 308.13,221.67 313.6,222.5 318.04,223.15 321.8,223.75 325,224.45 327.68,225.35 329.81,226.34 331.4,227.3 332.05,228.08 332.17,228.82 333,229.8 335.29,231.17 338.29,232.78 341,234.45 343.07,236.23 344.84,238.08 346.4,239.7" fill="none" stroke="#f1dc96" stroke-width="1.4" stroke-linejoin="round" stroke-linecap="round" />
<polyline points="216.4,219.8 222.65,219.93 231.53,220.11 240,220.3 246.93,220.47 253.47,220.63 260,220.8 266.67,220.96 273.33,221.12 280,221.3 286.65,221.42 293.3,221.57 300,222 307.15,222.95 314.36,224.19 320.5,225.3 325.17,226.03 328.78,226.62 331.4,227.4 332.57,228.59 332.75,229.97 333.4,231.2 335.13,232.01 337.33,232.67 339.6,233.6 341.97,235 344.4,236.66 346.4,238.4 347.76,240.39 348.69,242.45 349.3,243.9" fill="none" stroke="#1d3a4a" stroke-width="0.9" stroke-linejoin="round" stroke-linecap="round" />
<polyline points="216.4,217.6 222.65,217.62 231.53,217.65 240,217.7 246.93,217.78 253.47,217.89 260,218 266.81,218.12 273.63,218.25 280,218.4 285.57,218.55 290.7,218.73 296,219 301.98,219.42 308.13,219.94 313.6,220.5 318.04,221.07 321.8,221.68 325,222.3 327.68,222.9 329.81,223.51 331.4,224.2 332.05,224.94 332.17,225.77 333,226.8 335.29,228.14 338.29,229.69 341,231.3 343.07,232.88 344.84,234.52 346.4,236.3 347.81,238.54 348.99,240.92 349.8,242.6" fill="none" stroke="#9fd3ea" stroke-width="1.4" stroke-linejoin="round" stroke-linecap="round" />
<polyline points="216.4,216.8 222.65,216.82 231.53,216.85 240,216.9 246.93,216.98 253.47,217.09 260,217.2 266.81,217.32 273.63,217.45 280,217.6 285.57,217.75 290.7,217.93 296,218.2 301.98,218.62 308.13,219.14 313.6,219.7 318.04,220.27 321.8,220.88 325,221.5 327.68,222.1 329.81,222.71 331.4,223.4 332.05,224.14 332.17,224.97 333,226 335.29,227.34 338.29,228.89 341,230.5 343.07,232.08 344.84,233.72 346.4,235.5 347.81,237.74 348.99,240.12 349.8,241.8" fill="none" stroke="#3ba3c4" stroke-width="1.2" stroke-linejoin="round" stroke-linecap="round" />
<circle cx="227.9" cy="220.04" r="0.95" fill="#1d3a4a" stroke="none" stroke-width="0" />
<circle cx="236.4" cy="220.22" r="0.95" fill="#1d3a4a" stroke="none" stroke-width="0" />
<circle cx="244.89" cy="220.42" r="0.95" fill="#1d3a4a" stroke="none" stroke-width="0" />
<circle cx="253.39" cy="220.63" r="0.95" fill="#1d3a4a" stroke="none" stroke-width="0" />
<circle cx="261.89" cy="220.85" r="0.95" fill="#1d3a4a" stroke="none" stroke-width="0" />
<circle cx="270.39" cy="221.05" r="0.95" fill="#1d3a4a" stroke="none" stroke-width="0" />
<circle cx="278.88" cy="221.27" r="0.95" fill="#1d3a4a" stroke="none" stroke-width="0" />
<circle cx="287.38" cy="221.44" r="0.95" fill="#1d3a4a" stroke="none" stroke-width="0" />
<circle cx="295.87" cy="221.73" r="0.95" fill="#1d3a4a" stroke="none" stroke-width="0" />
<circle cx="304.33" cy="222.58" r="0.95" fill="#1d3a4a" stroke="none" stroke-width="0" />
<circle cx="312.72" cy="223.91" r="0.95" fill="#1d3a4a" stroke="none" stroke-width="0" />
<circle cx="321.09" cy="225.39" r="0.95" fill="#1d3a4a" stroke="none" stroke-width="0" />
<circle cx="329.46" cy="226.82" r="0.95" fill="#1d3a4a" stroke="none" stroke-width="0" />
<circle cx="335.24" cy="232.05" r="0.95" fill="#1d3a4a" stroke="none" stroke-width="0" />
<circle cx="342.89" cy="235.63" r="0.95" fill="#1d3a4a" stroke="none" stroke-width="0" />
<circle cx="348.43" cy="241.86" r="0.95" fill="#1d3a4a" stroke="none" stroke-width="0" />
<circle cx="231.9" cy="216.85" r="1.4" fill="#6cc3dd" stroke="#3ba3c4" stroke-width="0.3" />
<circle cx="240.4" cy="216.9" r="1.4" fill="#6cc3dd" stroke="#3ba3c4" stroke-width="0.3" />
<circle cx="248.9" cy="217.01" r="1.4" fill="#6cc3dd" stroke="#3ba3c4" stroke-width="0.3" />
<circle cx="257.4" cy="217.15" r="1.4" fill="#6cc3dd" stroke="#3ba3c4" stroke-width="0.3" />
<circle cx="265.9" cy="217.3" r="1.4" fill="#6cc3dd" stroke="#3ba3c4" stroke-width="0.3" />
<circle cx="274.39" cy="217.47" r="1.4" fill="#6cc3dd" stroke="#3ba3c4" stroke-width="0.3" />
<circle cx="282.89" cy="217.68" r="1.4" fill="#6cc3dd" stroke="#3ba3c4" stroke-width="0.3" />
<circle cx="291.39" cy="217.96" r="1.4" fill="#6cc3dd" stroke="#3ba3c4" stroke-width="0.3" />
<circle cx="299.87" cy="218.47" r="1.4" fill="#6cc3dd" stroke="#3ba3c4" stroke-width="0.3" />
<circle cx="308.34" cy="219.17" r="1.4" fill="#6cc3dd" stroke="#3ba3c4" stroke-width="0.3" />
<circle cx="316.79" cy="220.11" r="1.4" fill="#6cc3dd" stroke="#3ba3c4" stroke-width="0.3" />
<circle cx="325.17" cy="221.54" r="1.4" fill="#6cc3dd" stroke="#3ba3c4" stroke-width="0.3" />
<circle cx="332.27" cy="225.09" r="1.4" fill="#6cc3dd" stroke="#3ba3c4" stroke-width="0.3" />
<circle cx="339.41" cy="229.56" r="1.4" fill="#6cc3dd" stroke="#3ba3c4" stroke-width="0.3" />
<circle cx="345.92" cy="234.95" r="1.4" fill="#6cc3dd" stroke="#3ba3c4" stroke-width="0.3" />
<rect x="214.9" y="159.4" width="136.1" height="110" fill="none" stroke="#333" stroke-width="0.9"/>
<line x1="217.5" y1="243.8" x2="232" y2="243.8" stroke="#e9866c" stroke-width="0.9" />
<circle cx="224.75" cy="243.8" r="0.95" fill="#e9866c" stroke="none" stroke-width="0.5" />
<text x="233.3" y="246.2" font-family="'Liberation Sans', sans-serif" font-size="6.6" font-weight="normal" fill="#333" text-anchor="start" style="stroke-width:0.17px" textLength="7.4" lengthAdjust="spacingAndGlyphs" >B1</text>
<line x1="246.4" y1="243.8" x2="261" y2="243.8" stroke="#1d3a4a" stroke-width="0.9" />
<circle cx="253.7" cy="243.8" r="0.95" fill="#1d3a4a" stroke="none" stroke-width="0.5" />
<text x="263.8" y="246.2" font-family="'Liberation Sans', sans-serif" font-size="6.6" font-weight="normal" fill="#333" text-anchor="start" style="stroke-width:0.17px" textLength="7.4" lengthAdjust="spacingAndGlyphs" >B2</text>
<line x1="217.5" y1="253.9" x2="232" y2="253.9" stroke="#3ba3c4" stroke-width="0.9" />
<circle cx="224.75" cy="253.9" r="0.95" fill="#3ba3c4" stroke="none" stroke-width="0.5" />
<text x="233.3" y="256.3" font-family="'Liberation Sans', sans-serif" font-size="6.6" font-weight="normal" fill="#333" text-anchor="start" style="stroke-width:0.17px" textLength="7.4" lengthAdjust="spacingAndGlyphs" >B3</text>
<line x1="246.4" y1="253.9" x2="261" y2="253.9" stroke="#9fd3ea" stroke-width="0.9" />
<circle cx="253.7" cy="253.9" r="0.95" fill="#9fd3ea" stroke="none" stroke-width="0.5" />
<text x="263.8" y="256.3" font-family="'Liberation Sans', sans-serif" font-size="6.6" font-weight="normal" fill="#333" text-anchor="start" style="stroke-width:0.17px" textLength="7.4" lengthAdjust="spacingAndGlyphs" >B4</text>
<ellipse cx="274.2" cy="170.3" rx="3.6" ry="8.2" fill="none" stroke="#111" stroke-width="0.8"/>
<line x1="274.2" y1="162.2" x2="256.02" y2="161.68" stroke="#111" stroke-width="0.8" />
<polygon points="253.3,161.6 256.74,160.4 256.66,163" fill="#111" stroke="none" stroke-width="0.6" stroke-linejoin="round" />
<ellipse cx="281.4" cy="222.5" rx="4.1" ry="11" fill="none" stroke="#111" stroke-width="0.8"/>
<line x1="281.8" y1="211.4" x2="299.48" y2="211.4" stroke="#111" stroke-width="0.8" />
<polygon points="302.2,211.4 298.8,212.7 298.8,210.1" fill="#111" stroke="none" stroke-width="0.6" stroke-linejoin="round" />
<text x="257.3" y="189.4" font-family="'Liberation Sans', sans-serif" font-size="8.8" font-weight="normal" fill="#333" text-anchor="start" style="stroke-width:0.23px" textLength="39.6" lengthAdjust="spacingAndGlyphs" >59.34 cd/A</text>
<line x1="256" y1="185.2" x2="218.84" y2="168.52" stroke="#222" stroke-width="0.7" />
<polygon points="216.8,167.6 219.87,167.6 218.84,169.9" fill="#222" stroke="none" stroke-width="0.6" stroke-linejoin="round" />
<text x="247.9" y="203.6" font-family="'Liberation Sans', sans-serif" font-size="8.8" font-weight="normal" fill="#333" text-anchor="start" style="stroke-width:0.23px" textLength="28.1" lengthAdjust="spacingAndGlyphs" >30.21%</text>
<line x1="245.8" y1="198.5" x2="217.26" y2="214.31" stroke="#222" stroke-width="0.7" />
<polygon points="215.3,215.4 217.14,212.94 218.36,215.15" fill="#222" stroke="none" stroke-width="0.6" stroke-linejoin="round" />
<text x="382" y="161.4" font-family="'Liberation Sans', sans-serif" font-size="9.3" font-weight="bold" fill="#222" text-anchor="start" style="stroke-width:0.4px" >(f)</text>
<line x1="403.7" y1="269.4" x2="405.5" y2="269.4" stroke="#222" stroke-width="0.7" />
<text x="401.8" y="271.5" font-family="'Liberation Sans', sans-serif" font-size="5.6" font-weight="normal" fill="#333" text-anchor="end">10<tspan font-size="3.36" dy="-2.13">0</tspan></text>
<line x1="404.5" y1="258.35" x2="405.5" y2="258.35" stroke="#222" stroke-width="0.5" />
<line x1="404.5" y1="251.89" x2="405.5" y2="251.89" stroke="#222" stroke-width="0.5" />
<line x1="404.5" y1="247.3" x2="405.5" y2="247.3" stroke="#222" stroke-width="0.5" />
<line x1="404.5" y1="243.75" x2="405.5" y2="243.75" stroke="#222" stroke-width="0.5" />
<line x1="404.5" y1="240.84" x2="405.5" y2="240.84" stroke="#222" stroke-width="0.5" />
<line x1="404.5" y1="238.38" x2="405.5" y2="238.38" stroke="#222" stroke-width="0.5" />
<line x1="404.5" y1="236.26" x2="405.5" y2="236.26" stroke="#222" stroke-width="0.5" />
<line x1="404.5" y1="234.38" x2="405.5" y2="234.38" stroke="#222" stroke-width="0.5" />
<line x1="403.7" y1="232.7" x2="405.5" y2="232.7" stroke="#222" stroke-width="0.7" />
<text x="401.8" y="234.8" font-family="'Liberation Sans', sans-serif" font-size="5.6" font-weight="normal" fill="#333" text-anchor="end">10<tspan font-size="3.36" dy="-2.13">1</tspan></text>
<line x1="404.5" y1="221.65" x2="405.5" y2="221.65" stroke="#222" stroke-width="0.5" />
<line x1="404.5" y1="215.19" x2="405.5" y2="215.19" stroke="#222" stroke-width="0.5" />
<line x1="404.5" y1="210.6" x2="405.5" y2="210.6" stroke="#222" stroke-width="0.5" />
<line x1="404.5" y1="207.05" x2="405.5" y2="207.05" stroke="#222" stroke-width="0.5" />
<line x1="404.5" y1="204.14" x2="405.5" y2="204.14" stroke="#222" stroke-width="0.5" />
<line x1="404.5" y1="201.68" x2="405.5" y2="201.68" stroke="#222" stroke-width="0.5" />
<line x1="404.5" y1="199.56" x2="405.5" y2="199.56" stroke="#222" stroke-width="0.5" />
<line x1="404.5" y1="197.68" x2="405.5" y2="197.68" stroke="#222" stroke-width="0.5" />
<line x1="403.7" y1="196" x2="405.5" y2="196" stroke="#222" stroke-width="0.7" />
<text x="401.8" y="198.1" font-family="'Liberation Sans', sans-serif" font-size="5.6" font-weight="normal" fill="#333" text-anchor="end">10<tspan font-size="3.36" dy="-2.13">2</tspan></text>
<line x1="404.5" y1="184.95" x2="405.5" y2="184.95" stroke="#222" stroke-width="0.5" />
<line x1="404.5" y1="178.49" x2="405.5" y2="178.49" stroke="#222" stroke-width="0.5" />
<line x1="404.5" y1="173.9" x2="405.5" y2="173.9" stroke="#222" stroke-width="0.5" />
<line x1="404.5" y1="170.35" x2="405.5" y2="170.35" stroke="#222" stroke-width="0.5" />
<line x1="404.5" y1="167.44" x2="405.5" y2="167.44" stroke="#222" stroke-width="0.5" />
<line x1="404.5" y1="164.98" x2="405.5" y2="164.98" stroke="#222" stroke-width="0.5" />
<line x1="404.5" y1="162.86" x2="405.5" y2="162.86" stroke="#222" stroke-width="0.5" />
<line x1="404.5" y1="160.98" x2="405.5" y2="160.98" stroke="#222" stroke-width="0.5" />
<line x1="410.4" y1="269.6" x2="410.4" y2="271.4" stroke="#222" stroke-width="0.7" />
<text x="410.4" y="279.4" font-family="'Liberation Sans', sans-serif" font-size="5.6" font-weight="normal" fill="#333" text-anchor="middle">10<tspan font-size="3.36" dy="-2.13">0</tspan></text>
<line x1="420.56" y1="269.6" x2="420.56" y2="270.6" stroke="#222" stroke-width="0.5" />
<line x1="426.5" y1="269.6" x2="426.5" y2="270.6" stroke="#222" stroke-width="0.5" />
<line x1="430.72" y1="269.6" x2="430.72" y2="270.6" stroke="#222" stroke-width="0.5" />
<line x1="433.99" y1="269.6" x2="433.99" y2="270.6" stroke="#222" stroke-width="0.5" />
<line x1="436.66" y1="269.6" x2="436.66" y2="270.6" stroke="#222" stroke-width="0.5" />
<line x1="438.92" y1="269.6" x2="438.92" y2="270.6" stroke="#222" stroke-width="0.5" />
<line x1="440.88" y1="269.6" x2="440.88" y2="270.6" stroke="#222" stroke-width="0.5" />
<line x1="442.61" y1="269.6" x2="442.61" y2="270.6" stroke="#222" stroke-width="0.5" />
<line x1="444.15" y1="269.6" x2="444.15" y2="271.4" stroke="#222" stroke-width="0.7" />
<text x="444.15" y="279.4" font-family="'Liberation Sans', sans-serif" font-size="5.6" font-weight="normal" fill="#333" text-anchor="middle">10<tspan font-size="3.36" dy="-2.13">1</tspan></text>
<line x1="454.31" y1="269.6" x2="454.31" y2="270.6" stroke="#222" stroke-width="0.5" />
<line x1="460.25" y1="269.6" x2="460.25" y2="270.6" stroke="#222" stroke-width="0.5" />
<line x1="464.47" y1="269.6" x2="464.47" y2="270.6" stroke="#222" stroke-width="0.5" />
<line x1="467.74" y1="269.6" x2="467.74" y2="270.6" stroke="#222" stroke-width="0.5" />
<line x1="470.41" y1="269.6" x2="470.41" y2="270.6" stroke="#222" stroke-width="0.5" />
<line x1="472.67" y1="269.6" x2="472.67" y2="270.6" stroke="#222" stroke-width="0.5" />
<line x1="474.63" y1="269.6" x2="474.63" y2="270.6" stroke="#222" stroke-width="0.5" />
<line x1="476.36" y1="269.6" x2="476.36" y2="270.6" stroke="#222" stroke-width="0.5" />
<line x1="477.9" y1="269.6" x2="477.9" y2="271.4" stroke="#222" stroke-width="0.7" />
<text x="477.9" y="279.4" font-family="'Liberation Sans', sans-serif" font-size="5.6" font-weight="normal" fill="#333" text-anchor="middle">10<tspan font-size="3.36" dy="-2.13">2</tspan></text>
<line x1="488.06" y1="269.6" x2="488.06" y2="270.6" stroke="#222" stroke-width="0.5" />
<line x1="494" y1="269.6" x2="494" y2="270.6" stroke="#222" stroke-width="0.5" />
<line x1="498.22" y1="269.6" x2="498.22" y2="270.6" stroke="#222" stroke-width="0.5" />
<line x1="501.49" y1="269.6" x2="501.49" y2="270.6" stroke="#222" stroke-width="0.5" />
<line x1="504.16" y1="269.6" x2="504.16" y2="270.6" stroke="#222" stroke-width="0.5" />
<line x1="506.42" y1="269.6" x2="506.42" y2="270.6" stroke="#222" stroke-width="0.5" />
<line x1="508.38" y1="269.6" x2="508.38" y2="270.6" stroke="#222" stroke-width="0.5" />
<line x1="510.11" y1="269.6" x2="510.11" y2="270.6" stroke="#222" stroke-width="0.5" />
<line x1="511.65" y1="269.6" x2="511.65" y2="271.4" stroke="#222" stroke-width="0.7" />
<text x="511.65" y="279.4" font-family="'Liberation Sans', sans-serif" font-size="5.6" font-weight="normal" fill="#333" text-anchor="middle">10<tspan font-size="3.36" dy="-2.13">3</tspan></text>
<line x1="521.81" y1="269.6" x2="521.81" y2="270.6" stroke="#222" stroke-width="0.5" />
<line x1="527.75" y1="269.6" x2="527.75" y2="270.6" stroke="#222" stroke-width="0.5" />
<line x1="531.97" y1="269.6" x2="531.97" y2="270.6" stroke="#222" stroke-width="0.5" />
<line x1="535.24" y1="269.6" x2="535.24" y2="270.6" stroke="#222" stroke-width="0.5" />
<line x1="537.91" y1="269.6" x2="537.91" y2="270.6" stroke="#222" stroke-width="0.5" />
<line x1="540.17" y1="269.6" x2="540.17" y2="270.6" stroke="#222" stroke-width="0.5" />
<line x1="542.13" y1="269.6" x2="542.13" y2="270.6" stroke="#222" stroke-width="0.5" />
<line x1="543.86" y1="269.6" x2="543.86" y2="270.6" stroke="#222" stroke-width="0.5" />
<text x="0" y="0" font-family="'Liberation Sans', sans-serif" font-size="6.8" font-weight="bold" fill="#333" text-anchor="middle" style="stroke-width:0.33px" textLength="73.8" lengthAdjust="spacingAndGlyphs" transform="translate(389.3 213.5) rotate(-90)">Power Efficiency (lm/W)</text>
<text x="478.7" y="287.6" font-family="'Liberation Sans', sans-serif" font-size="6.8" font-weight="bold" fill="#333" text-anchor="middle" textLength="55.4" lengthAdjust="spacingAndGlyphs" style="stroke-width:0.15px">Luminance (cd/m<tspan font-size="4" dy="-2">2</tspan><tspan dy="2">)</tspan></text>
<polyline points="408.2,206.2 410.96,206.2 415.02,206.2 420,206.2 426.06,206.2 433.03,206.2 440,206.2 446.85,206.2 453.7,206.2 460,206.2 465.37,206.3 470.19,206.79 475,207.4 479.97,208.21 484.94,209.16 490,210.2 495.35,211.33 500.79,212.56 505.8,213.9 510.23,215.4 514.23,217 517.7,218.6 520.58,220.11 522.94,221.61 524.9,223.2 526.28,227.13 527.26,228.96 528.5,230.8 530.34,232.64 532.43,234.5 534.4,236.4 536.13,236.01 537.73,237.85 539.2,240.1 540.57,243.26 541.81,246.83 542.8,249.7 543.48,251.39 543.92,252.38 544.2,253" fill="none" stroke="#e9866c" stroke-width="1.0" stroke-linejoin="round" stroke-linecap="round" />
<polyline points="408.2,201.6 410.96,201.94 415.02,202.44 420,203 426.06,203.63 433.03,204.33 440,205 446.85,205.62 453.7,206.22 460,206.8 465.37,207.3 470.19,207.79 475,208.4 479.97,209.21 484.94,210.16 490,211.2 495.35,212.33 500.79,213.56 505.8,214.9 510.23,216.4 514.23,218 517.7,219.6 520.58,221.11 522.94,222.61 524.9,224.2 526.28,225.93 527.26,227.76 528.5,229.6 530.34,231.44 532.43,233.3 534.4,235.2 536.13,237.01 537.73,238.85 539.2,241.1 540.57,244.26 541.81,247.83 542.8,250.7 543.48,252.39 543.92,253.38 544.2,254" fill="none" stroke="#1d3a4a" stroke-width="0.9" stroke-linejoin="round" stroke-linecap="round" />
<polyline points="408.2,201.2 410.96,201.54 415.02,202.04 420,202.6 426.06,203.23 433.03,203.93 440,204.6 446.85,205.22 453.7,205.82 460,206.4 465.37,206.9 470.19,207.39 475,208 479.97,208.81 484.94,209.76 490,210.8 495.35,211.93 500.79,213.16 505.8,214.5 510.23,216 514.23,217.6 517.7,219.2 520.58,220.71 522.94,222.21 524.9,223.8 526.28,225.53 527.26,227.36 528.5,229.2 530.34,231.04 532.43,232.9 534.4,234.8 536.13,236.61 537.73,238.45 539.2,240.7 540.57,243.86 541.81,247.43 542.8,250.3 543.48,251.99 543.92,252.98 544.2,253.6" fill="none" stroke="#9fd3ea" stroke-width="1.6" stroke-linejoin="round" stroke-linecap="round" />
<polyline points="408.2,200.6 410.96,200.94 415.02,201.44 420,202 426.06,202.63 433.03,203.33 440,204 446.85,204.62 453.7,205.22 460,205.8 465.37,206.3 470.19,206.79 475,207.4 479.97,208.21 484.94,209.16 490,210.2 495.35,211.33 500.79,212.56 505.8,213.9 510.23,215.4 514.23,217 517.7,218.6 520.58,220.11 522.94,221.61 524.9,223.2 526.28,224.93 527.26,226.76 528.5,228.6 530.34,230.44 532.43,232.3 534.4,234.2 536.13,236.01 537.73,237.85 539.2,240.1 540.57,243.26 541.81,246.83 542.8,249.7 543.48,251.39 543.92,252.38 544.2,253" fill="none" stroke="#3ba3c4" stroke-width="1.2" stroke-linejoin="round" stroke-linecap="round" />
<circle cx="418.63" cy="202.84" r="0.95" fill="#1d3a4a" stroke="none" stroke-width="0" />
<circle cx="427.08" cy="203.73" r="0.95" fill="#1d3a4a" stroke="none" stroke-width="0" />
<circle cx="435.54" cy="204.57" r="0.95" fill="#1d3a4a" stroke="none" stroke-width="0" />
<circle cx="444" cy="205.36" r="0.95" fill="#1d3a4a" stroke="none" stroke-width="0" />
<circle cx="452.47" cy="206.11" r="0.95" fill="#1d3a4a" stroke="none" stroke-width="0" />
<circle cx="460.93" cy="206.89" r="0.95" fill="#1d3a4a" stroke="none" stroke-width="0" />
<circle cx="469.39" cy="207.71" r="0.95" fill="#1d3a4a" stroke="none" stroke-width="0" />
<circle cx="477.81" cy="208.86" r="0.95" fill="#1d3a4a" stroke="none" stroke-width="0" />
<circle cx="486.17" cy="210.41" r="0.95" fill="#1d3a4a" stroke="none" stroke-width="0" />
<circle cx="494.49" cy="212.15" r="0.95" fill="#1d3a4a" stroke="none" stroke-width="0" />
<circle cx="502.76" cy="214.09" r="0.95" fill="#1d3a4a" stroke="none" stroke-width="0" />
<circle cx="510.86" cy="216.65" r="0.95" fill="#1d3a4a" stroke="none" stroke-width="0" />
<circle cx="518.63" cy="220.09" r="0.95" fill="#1d3a4a" stroke="none" stroke-width="0" />
<circle cx="525.51" cy="224.97" r="0.95" fill="#1d3a4a" stroke="none" stroke-width="0" />
<circle cx="530.61" cy="231.69" r="0.95" fill="#1d3a4a" stroke="none" stroke-width="0" />
<circle cx="536.67" cy="237.64" r="0.95" fill="#1d3a4a" stroke="none" stroke-width="0" />
<circle cx="540.82" cy="244.98" r="0.95" fill="#1d3a4a" stroke="none" stroke-width="0" />
<circle cx="543.73" cy="252.96" r="0.95" fill="#1d3a4a" stroke="none" stroke-width="0" />
<circle cx="422.6" cy="202.27" r="1.4" fill="#6cc3dd" stroke="#3ba3c4" stroke-width="0.3" />
<circle cx="431.06" cy="203.13" r="1.4" fill="#6cc3dd" stroke="#3ba3c4" stroke-width="0.3" />
<circle cx="439.52" cy="203.95" r="1.4" fill="#6cc3dd" stroke="#3ba3c4" stroke-width="0.3" />
<circle cx="447.98" cy="204.72" r="1.4" fill="#6cc3dd" stroke="#3ba3c4" stroke-width="0.3" />
<circle cx="456.45" cy="205.47" r="1.4" fill="#6cc3dd" stroke="#3ba3c4" stroke-width="0.3" />
<circle cx="464.91" cy="206.26" r="1.4" fill="#6cc3dd" stroke="#3ba3c4" stroke-width="0.3" />
<circle cx="473.36" cy="207.19" r="1.4" fill="#6cc3dd" stroke="#3ba3c4" stroke-width="0.3" />
<circle cx="481.75" cy="208.55" r="1.4" fill="#6cc3dd" stroke="#3ba3c4" stroke-width="0.3" />
<circle cx="490.09" cy="210.22" r="1.4" fill="#6cc3dd" stroke="#3ba3c4" stroke-width="0.3" />
<circle cx="498.39" cy="212.02" r="1.4" fill="#6cc3dd" stroke="#3ba3c4" stroke-width="0.3" />
<circle cx="506.61" cy="214.17" r="1.4" fill="#6cc3dd" stroke="#3ba3c4" stroke-width="0.3" />
<circle cx="514.57" cy="217.16" r="1.4" fill="#6cc3dd" stroke="#3ba3c4" stroke-width="0.3" />
<circle cx="522.1" cy="221.08" r="1.4" fill="#6cc3dd" stroke="#3ba3c4" stroke-width="0.3" />
<circle cx="527.65" cy="227.33" r="1.4" fill="#6cc3dd" stroke="#3ba3c4" stroke-width="0.3" />
<circle cx="533.56" cy="233.39" r="1.4" fill="#6cc3dd" stroke="#3ba3c4" stroke-width="0.3" />
<circle cx="539.04" cy="239.85" r="1.4" fill="#6cc3dd" stroke="#3ba3c4" stroke-width="0.3" />
<circle cx="542.13" cy="247.76" r="1.4" fill="#6cc3dd" stroke="#3ba3c4" stroke-width="0.3" />
<circle cx="408.6" cy="200.2" r="1.4" fill="#1d3a4a" stroke="none" stroke-width="0.5" />
<rect x="405.5" y="160.2" width="139.4" height="109.4" fill="none" stroke="#333" stroke-width="0.9"/>
<line x1="487" y1="166.2" x2="502" y2="166.2" stroke="#e9866c" stroke-width="0.9" />
<circle cx="494.5" cy="166.2" r="0.95" fill="#e9866c" stroke="none" stroke-width="0.5" />
<text x="505.3" y="168.6" font-family="'Liberation Sans', sans-serif" font-size="6.6" font-weight="normal" fill="#333" text-anchor="start" style="stroke-width:0.17px" textLength="7.4" lengthAdjust="spacingAndGlyphs" >B1</text>
<line x1="516.4" y1="166.2" x2="530.9" y2="166.2" stroke="#1d3a4a" stroke-width="0.9" />
<circle cx="523.65" cy="166.2" r="0.95" fill="#1d3a4a" stroke="none" stroke-width="0.5" />
<text x="534.6" y="168.6" font-family="'Liberation Sans', sans-serif" font-size="6.6" font-weight="normal" fill="#333" text-anchor="start" style="stroke-width:0.17px" textLength="7.4" lengthAdjust="spacingAndGlyphs" >B2</text>
<line x1="487" y1="175.6" x2="502" y2="175.6" stroke="#3ba3c4" stroke-width="0.9" />
<circle cx="494.5" cy="175.6" r="0.95" fill="#3ba3c4" stroke="none" stroke-width="0.5" />
<text x="505.3" y="178" font-family="'Liberation Sans', sans-serif" font-size="6.6" font-weight="normal" fill="#333" text-anchor="start" style="stroke-width:0.17px" textLength="7.4" lengthAdjust="spacingAndGlyphs" >B3</text>
<line x1="516.4" y1="175.6" x2="530.9" y2="175.6" stroke="#9fd3ea" stroke-width="0.9" />
<circle cx="523.65" cy="175.6" r="0.95" fill="#9fd3ea" stroke="none" stroke-width="0.5" />
<text x="534.6" y="178" font-family="'Liberation Sans', sans-serif" font-size="6.6" font-weight="normal" fill="#333" text-anchor="start" style="stroke-width:0.17px" textLength="7.4" lengthAdjust="spacingAndGlyphs" >B4</text>
<text x="426" y="191.3" font-family="'Liberation Sans', sans-serif" font-size="8.8" font-weight="normal" fill="#333" text-anchor="start" style="stroke-width:0.23px" textLength="45.5" lengthAdjust="spacingAndGlyphs" >74.55 lm/W</text>
<line x1="425.5" y1="187.2" x2="410.99" y2="198.06" stroke="#222" stroke-width="0.7" />
<polygon points="409.2,199.4 410.69,196.71 412.2,198.73" fill="#222" stroke="none" stroke-width="0.6" stroke-linejoin="round" />
</svg>
</body></html>
